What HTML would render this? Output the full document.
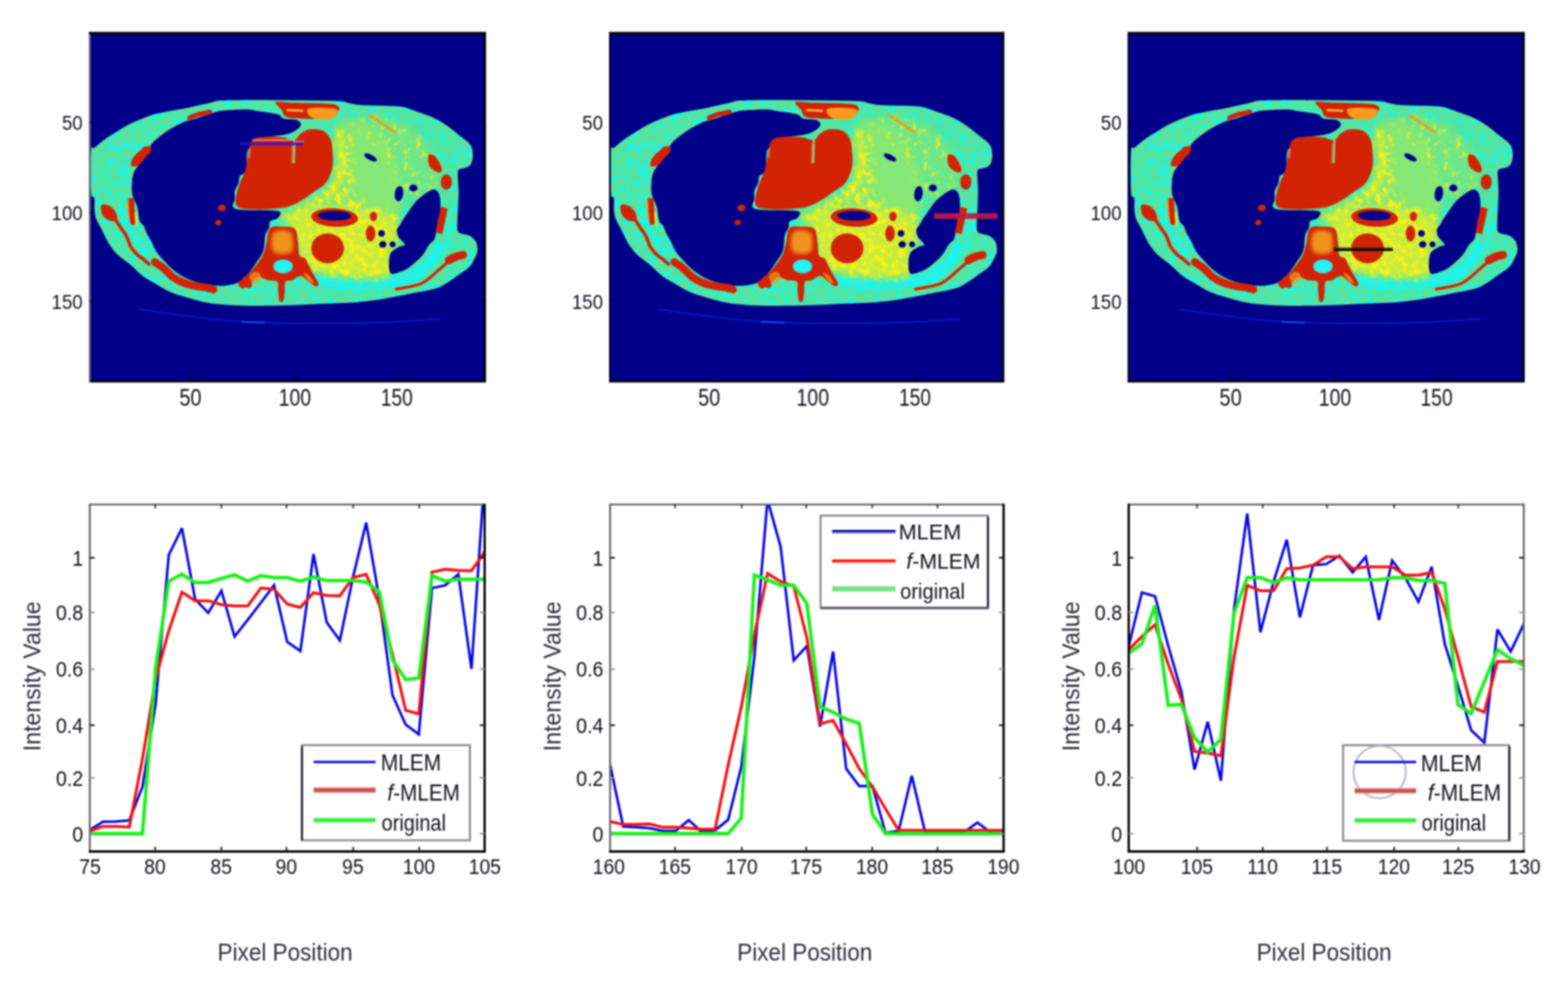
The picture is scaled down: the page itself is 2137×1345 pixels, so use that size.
<!DOCTYPE html>
<html lang="en">
<head>
<meta charset="utf-8">
<title>CT reconstruction line profiles: MLEM vs f-MLEM vs original</title>
<style>
html,body{margin:0;padding:0;background:#fff;}
body{width:2137px;height:1345px;overflow:hidden;}
#fig{position:relative;width:2137px;height:1345px;background:#fff;filter:blur(0.8px);}
#fig svg{display:block;position:absolute;left:0;top:0;font-family:"Liberation Sans", sans-serif;}
#labels{}
</style>
</head>
<body>
<div id="fig">
<svg id="gfx" width="2137" height="1345" viewBox="0 0 2137 1345">
<rect x="0" y="0" width="2137" height="1345" fill="#ffffff"/>
<filter id="fc" x="0" y="0" width="1" height="1" color-interpolation-filters="sRGB"><feTurbulence type="fractalNoise" baseFrequency="0.13" numOctaves="2" seed="7"/><feColorMatrix type="matrix" values="0 0 0 0 0  0 0 0 0 1  0 0 0 0 1  4.5 0 0 0 -2.3"/><feComposite in2="SourceGraphic" operator="in"/></filter>
<filter id="fy" x="-0.1" y="-0.1" width="1.2" height="1.2" color-interpolation-filters="sRGB"><feGaussianBlur in="SourceAlpha" stdDeviation="5" result="m"/><feTurbulence type="fractalNoise" baseFrequency="0.12" numOctaves="2" seed="23"/><feColorMatrix type="matrix" values="0 0 0 0 0.97  0 0 0 0 0.94  0 0 0 0 0.1  0 4.5 0 0 -2.0"/><feComposite in2="m" operator="in"/></filter>
<filter id="fy2" x="-0.1" y="-0.1" width="1.2" height="1.2" color-interpolation-filters="sRGB"><feGaussianBlur in="SourceAlpha" stdDeviation="5" result="m"/><feTurbulence type="fractalNoise" baseFrequency="0.12" numOctaves="2" seed="41"/><feColorMatrix type="matrix" values="0 0 0 0 0.9  0 0 0 0 0.93  0 0 0 0 0.15  0 4 0 0 -2.25"/><feComposite in2="m" operator="in"/></filter>
<filter id="fb" x="-0.2" y="-0.2" width="1.4" height="1.4"><feGaussianBlur stdDeviation="5"/></filter>
<filter id="fb2" x="-0.3" y="-0.3" width="1.6" height="1.6"><feGaussianBlur stdDeviation="2.5"/></filter>
<g id="ct1">
<clipPath id="cc0"><rect x="122.2" y="45.2" width="538.6" height="474.6"/></clipPath>
<rect x="122.2" y="45.2" width="538.6" height="474.6" fill="#020089"/>
<g clip-path="url(#cc0)"><g transform="translate(0 0)">
<clipPath id="bodyclip0"><path d="M124.2 262C123.47 251.37 123.33 216.37 124.2 206.2C125.07 196.03 125.93 203.98 129.4 201C132.87 198.02 140.18 191.8 145 188.3C149.82 184.8 153.85 182.77 158.3 180C162.75 177.23 166.42 174.48 171.7 171.7C176.98 168.92 183.07 166.08 190 163.3C196.93 160.52 202.18 157.77 213.3 155C224.42 152.23 244.47 149.2 256.7 146.7C268.93 144.2 278.93 141.62 286.7 140C294.47 138.38 289.42 137.6 303.3 137C317.18 136.4 344.43 136.32 370 136.4C395.57 136.48 438.92 136.77 456.7 137.5C474.48 138.23 470.6 139.83 476.7 140.8C482.8 141.77 482.2 142.6 493.3 143.3C504.4 144 532.18 144.02 543.3 145C554.42 145.98 554.43 147.53 560 149.2C565.57 150.87 571.15 152.92 576.7 155C582.25 157.08 587.75 158.92 593.3 161.7C598.85 164.48 604.43 167.82 610 171.7C615.57 175.58 622.2 181.45 626.7 185C631.2 188.55 634.37 190.5 637 193C639.63 195.5 641.3 197.5 642.5 200C643.7 202.5 643.95 205.17 644.2 208C644.45 210.83 644.53 214.22 644 217C643.47 219.78 642.57 222.77 641 224.7C639.43 226.63 637.1 227.58 634.6 228.6C632.1 229.62 627.77 229.9 626 230.8C624.23 231.7 624.3 231.63 624 234C623.7 236.37 624.03 240.12 624.2 245C624.37 249.88 625.1 254.68 625 263.3C624.9 271.92 623.88 288.58 623.6 296.7C623.32 304.82 622.78 308.53 623.3 312C623.82 315.47 623.92 315.95 626.7 317.5C629.48 319.05 636.4 319.38 640 321.3C643.6 323.22 646.5 325.88 648.3 329C650.1 332.12 650.77 336.67 650.8 340C650.83 343.33 650.3 345.12 648.5 349C646.7 352.88 643.63 359.25 640 363.3C636.37 367.35 631.7 369.68 626.7 373.3C621.7 376.92 615.57 381.67 610 385C604.43 388.33 601.63 390.8 593.3 393.3C584.97 395.8 569.72 398.05 560 400C550.28 401.95 543.33 403.47 535 405C526.67 406.53 519.72 407.95 510 409.2C500.28 410.45 487.82 411.73 476.7 412.5C465.58 413.27 457.2 413.22 443.3 413.8C429.4 414.38 411.07 415.52 393.3 416C375.53 416.48 351.7 416.87 336.7 416.7C321.7 416.53 313.03 415.83 303.3 415C293.57 414.17 286.63 413.37 278.3 411.7C269.97 410.03 260.95 407.28 253.3 405C245.65 402.72 239 400.88 232.4 398C225.8 395.12 219.93 391.28 213.7 387.7C207.47 384.12 201.25 381.18 195 376.5C188.75 371.82 182.03 364.57 176.2 359.6C170.37 354.63 164.68 351.38 160 346.7C155.32 342.02 151.65 337.15 148.1 331.5C144.55 325.85 141.55 318.38 138.7 312.8C135.85 307.22 132.65 302.63 131 298C129.35 293.37 129.2 289.67 128.8 285C128.4 280.33 129.37 273.83 128.6 270C127.83 266.17 124.93 272.63 124.2 262Z"/></clipPath>
<path d="M124.2 262C123.47 251.37 123.33 216.37 124.2 206.2C125.07 196.03 125.93 203.98 129.4 201C132.87 198.02 140.18 191.8 145 188.3C149.82 184.8 153.85 182.77 158.3 180C162.75 177.23 166.42 174.48 171.7 171.7C176.98 168.92 183.07 166.08 190 163.3C196.93 160.52 202.18 157.77 213.3 155C224.42 152.23 244.47 149.2 256.7 146.7C268.93 144.2 278.93 141.62 286.7 140C294.47 138.38 289.42 137.6 303.3 137C317.18 136.4 344.43 136.32 370 136.4C395.57 136.48 438.92 136.77 456.7 137.5C474.48 138.23 470.6 139.83 476.7 140.8C482.8 141.77 482.2 142.6 493.3 143.3C504.4 144 532.18 144.02 543.3 145C554.42 145.98 554.43 147.53 560 149.2C565.57 150.87 571.15 152.92 576.7 155C582.25 157.08 587.75 158.92 593.3 161.7C598.85 164.48 604.43 167.82 610 171.7C615.57 175.58 622.2 181.45 626.7 185C631.2 188.55 634.37 190.5 637 193C639.63 195.5 641.3 197.5 642.5 200C643.7 202.5 643.95 205.17 644.2 208C644.45 210.83 644.53 214.22 644 217C643.47 219.78 642.57 222.77 641 224.7C639.43 226.63 637.1 227.58 634.6 228.6C632.1 229.62 627.77 229.9 626 230.8C624.23 231.7 624.3 231.63 624 234C623.7 236.37 624.03 240.12 624.2 245C624.37 249.88 625.1 254.68 625 263.3C624.9 271.92 623.88 288.58 623.6 296.7C623.32 304.82 622.78 308.53 623.3 312C623.82 315.47 623.92 315.95 626.7 317.5C629.48 319.05 636.4 319.38 640 321.3C643.6 323.22 646.5 325.88 648.3 329C650.1 332.12 650.77 336.67 650.8 340C650.83 343.33 650.3 345.12 648.5 349C646.7 352.88 643.63 359.25 640 363.3C636.37 367.35 631.7 369.68 626.7 373.3C621.7 376.92 615.57 381.67 610 385C604.43 388.33 601.63 390.8 593.3 393.3C584.97 395.8 569.72 398.05 560 400C550.28 401.95 543.33 403.47 535 405C526.67 406.53 519.72 407.95 510 409.2C500.28 410.45 487.82 411.73 476.7 412.5C465.58 413.27 457.2 413.22 443.3 413.8C429.4 414.38 411.07 415.52 393.3 416C375.53 416.48 351.7 416.87 336.7 416.7C321.7 416.53 313.03 415.83 303.3 415C293.57 414.17 286.63 413.37 278.3 411.7C269.97 410.03 260.95 407.28 253.3 405C245.65 402.72 239 400.88 232.4 398C225.8 395.12 219.93 391.28 213.7 387.7C207.47 384.12 201.25 381.18 195 376.5C188.75 371.82 182.03 364.57 176.2 359.6C170.37 354.63 164.68 351.38 160 346.7C155.32 342.02 151.65 337.15 148.1 331.5C144.55 325.85 141.55 318.38 138.7 312.8C135.85 307.22 132.65 302.63 131 298C129.35 293.37 129.2 289.67 128.8 285C128.4 280.33 129.37 273.83 128.6 270C127.83 266.17 124.93 272.63 124.2 262Z" fill="#5ae29a"/>
<g clip-path="url(#bodyclip0)">
<path d="M150 202C154.17 201.33 167.5 197.83 175 198C182.5 198.17 191.67 202.17 195 203" fill="none" stroke="#22f2f4" stroke-width="9" stroke-linecap="round" stroke-linejoin="round" opacity="0.6" filter="url(#fb2)"/>
<path d="M160 225C162 226.67 170.67 230.83 172 235C173.33 239.17 168.67 247.5 168 250" fill="none" stroke="#22f2f4" stroke-width="11" stroke-linecap="round" stroke-linejoin="round" opacity="0.5" filter="url(#fb2)"/>
<path d="M166 285C167 287.5 169.67 294.5 172 300C174.33 305.5 177 312.5 180 318C183 323.5 186.67 328.5 190 333C193.33 337.5 198.33 343 200 345" fill="none" stroke="#22f2f4" stroke-width="9" stroke-linecap="round" stroke-linejoin="round" opacity="0.6" filter="url(#fb2)"/>
<path d="M330 392C335 392.5 348.33 394.67 360 395C371.67 395.33 393.33 394.17 400 394" fill="none" stroke="#22f2f4" stroke-width="8" stroke-linecap="round" stroke-linejoin="round" opacity="0.55" filter="url(#fb2)"/>
<path d="M415 330 L418 345" fill="none" stroke="#22f2f4" stroke-width="12" stroke-linecap="round" stroke-linejoin="round" opacity="0.7" filter="url(#fb2)"/>
<path d="M432 381C438.33 382 455.33 386.33 470 387C484.67 387.67 505 386.67 520 385C535 383.33 549.17 381.33 560 377C570.83 372.67 578.67 365 585 359C591.33 353 595.83 344 598 341" fill="none" stroke="#22f2f4" stroke-width="15" stroke-linecap="round" stroke-linejoin="round" opacity="0.85" filter="url(#fb2)"/>
<path d="M600 395C604.17 392.5 618.33 385.83 625 380C631.67 374.17 637.5 363.33 640 360" fill="none" stroke="#22f2f4" stroke-width="9" stroke-linecap="round" stroke-linejoin="round" opacity="0.35" filter="url(#fb2)"/>
<path d="M612 300C612 303.33 613.17 313.33 612 320C610.83 326.67 606.17 336.67 605 340" fill="none" stroke="#22f2f4" stroke-width="9" stroke-linecap="round" stroke-linejoin="round" opacity="0.55" filter="url(#fb2)"/>
<path d="M500 232C503.33 233.33 512.5 237.83 520 240C527.5 242.17 540.83 244.17 545 245" fill="none" stroke="#22f2f4" stroke-width="12" stroke-linecap="round" stroke-linejoin="round" opacity="0.5" filter="url(#fb2)"/>
<path d="M420 268 L440 258" fill="none" stroke="#22f2f4" stroke-width="8" stroke-linecap="round" stroke-linejoin="round" opacity="0.55" filter="url(#fb2)"/>
<path d="M625 200 L637 210" fill="none" stroke="#22f2f4" stroke-width="8" stroke-linecap="round" stroke-linejoin="round" opacity="0.4" filter="url(#fb2)"/>
<path d="M124.2 262C123.47 251.37 123.33 216.37 124.2 206.2C125.07 196.03 125.93 203.98 129.4 201C132.87 198.02 140.18 191.8 145 188.3C149.82 184.8 153.85 182.77 158.3 180C162.75 177.23 166.42 174.48 171.7 171.7C176.98 168.92 183.07 166.08 190 163.3C196.93 160.52 202.18 157.77 213.3 155C224.42 152.23 244.47 149.2 256.7 146.7C268.93 144.2 278.93 141.62 286.7 140C294.47 138.38 289.42 137.6 303.3 137C317.18 136.4 344.43 136.32 370 136.4C395.57 136.48 438.92 136.77 456.7 137.5C474.48 138.23 470.6 139.83 476.7 140.8C482.8 141.77 482.2 142.6 493.3 143.3C504.4 144 532.18 144.02 543.3 145C554.42 145.98 554.43 147.53 560 149.2C565.57 150.87 571.15 152.92 576.7 155C582.25 157.08 587.75 158.92 593.3 161.7C598.85 164.48 604.43 167.82 610 171.7C615.57 175.58 622.2 181.45 626.7 185C631.2 188.55 634.37 190.5 637 193C639.63 195.5 641.3 197.5 642.5 200C643.7 202.5 643.95 205.17 644.2 208C644.45 210.83 644.53 214.22 644 217C643.47 219.78 642.57 222.77 641 224.7C639.43 226.63 637.1 227.58 634.6 228.6C632.1 229.62 627.77 229.9 626 230.8C624.23 231.7 624.3 231.63 624 234C623.7 236.37 624.03 240.12 624.2 245C624.37 249.88 625.1 254.68 625 263.3C624.9 271.92 623.88 288.58 623.6 296.7C623.32 304.82 622.78 308.53 623.3 312C623.82 315.47 623.92 315.95 626.7 317.5C629.48 319.05 636.4 319.38 640 321.3C643.6 323.22 646.5 325.88 648.3 329C650.1 332.12 650.77 336.67 650.8 340C650.83 343.33 650.3 345.12 648.5 349C646.7 352.88 643.63 359.25 640 363.3C636.37 367.35 631.7 369.68 626.7 373.3C621.7 376.92 615.57 381.67 610 385C604.43 388.33 601.63 390.8 593.3 393.3C584.97 395.8 569.72 398.05 560 400C550.28 401.95 543.33 403.47 535 405C526.67 406.53 519.72 407.95 510 409.2C500.28 410.45 487.82 411.73 476.7 412.5C465.58 413.27 457.2 413.22 443.3 413.8C429.4 414.38 411.07 415.52 393.3 416C375.53 416.48 351.7 416.87 336.7 416.7C321.7 416.53 313.03 415.83 303.3 415C293.57 414.17 286.63 413.37 278.3 411.7C269.97 410.03 260.95 407.28 253.3 405C245.65 402.72 239 400.88 232.4 398C225.8 395.12 219.93 391.28 213.7 387.7C207.47 384.12 201.25 381.18 195 376.5C188.75 371.82 182.03 364.57 176.2 359.6C170.37 354.63 164.68 351.38 160 346.7C155.32 342.02 151.65 337.15 148.1 331.5C144.55 325.85 141.55 318.38 138.7 312.8C135.85 307.22 132.65 302.63 131 298C129.35 293.37 129.2 289.67 128.8 285C128.4 280.33 129.37 273.83 128.6 270C127.83 266.17 124.93 272.63 124.2 262Z" fill="#000" filter="url(#fc)"/>
<path d="M480 165C484.17 160 506.67 158.33 520 160C533.33 161.67 548.33 167.5 560 175C571.67 182.5 583.33 194.17 590 205C596.67 215.83 600.83 230.5 600 240C599.17 249.5 591.67 257 585 262C578.33 267 567.5 272 560 270C552.5 268 546.67 259.17 540 250C533.33 240.83 527.5 225 520 215C512.5 205 501.67 198.33 495 190C488.33 181.67 475.83 170 480 165Z" fill="#7ee67c" filter="url(#fb)" opacity="0.75"/>
<path d="M455 178C456.67 167.67 462.17 168 468 166C473.83 164 482.67 163.33 490 166C497.33 168.67 505.33 175.5 512 182C518.67 188.5 524.5 196.17 530 205C535.5 213.83 541.67 225.5 545 235C548.33 244.5 550 252.83 550 262C550 271.17 546.67 281.17 545 290C543.33 298.83 541.67 305.83 540 315C538.33 324.17 536.67 335.17 535 345C533.33 354.83 535.83 368 530 374C524.17 380 510 380.33 500 381C490 381.67 479.17 379 470 378C460.83 377 452.5 376.67 445 375C437.5 373.33 430.83 372.5 425 368C419.17 363.5 413.33 355.67 410 348C406.67 340.33 406.67 329.67 405 322C403.33 314.33 403.83 307 400 302C396.17 297 382.83 294.83 382 292C381.17 289.17 388.67 288.33 395 285C401.33 281.67 411.67 277.17 420 272C428.33 266.83 438.67 261.33 445 254C451.33 246.67 456.33 240.67 458 228C459.67 215.33 453.33 188.33 455 178Z" fill="#8ce870" filter="url(#fb)" opacity="0.9"/>
<path d="M402 290C409.83 287.83 418.67 287.83 430 287C441.33 286.17 456.33 284.67 470 285C483.67 285.33 500.67 286.5 512 289C523.33 291.5 533 294.83 538 300C543 305.17 543 312.5 542 320C541 327.5 534.33 336.33 532 345C529.67 353.67 533.33 366.67 528 372C522.67 377.33 509.67 376.5 500 377C490.33 377.5 479.17 376 470 375C460.83 374 452.5 372.67 445 371C437.5 369.33 430.5 369.33 425 365C419.5 360.67 415 352.5 412 345C409 337.5 411.83 327.5 407 320C402.17 312.5 383.83 305 383 300C382.17 295 394.17 292.17 402 290Z" fill="#f2ee1e" opacity="0.6" filter="url(#fb)"/>
<path d="M462 185C462.67 190 466 205 466 215C466 225 464.67 236.67 462 245C459.33 253.33 452 261.67 450 265" fill="none" stroke="#f2ee1e" stroke-width="9" stroke-linecap="round" stroke-linejoin="round" opacity="0.55" filter="url(#fb2)"/>
<path d="M340 170C341.67 165.33 353.33 160.67 360 160C366.67 159.33 374.17 163.5 380 166C385.83 168.5 395 172 395 175C395 178 387.5 181.83 380 184C372.5 186.17 356.67 190.33 350 188C343.33 185.67 338.33 174.67 340 170Z" fill="#8ce870" filter="url(#fb2)" opacity="0.6"/>
<path d="M456 185C457.83 176.67 464 177.17 468 178C472 178.83 477.67 181.33 480 190C482.33 198.67 480.33 216.67 482 230C483.67 243.33 483.67 261.33 490 270C496.33 278.67 510.83 277 520 282C529.17 287 541.33 292.83 545 300C548.67 307.17 543.83 316.67 542 325C540.17 333.33 536 341.5 534 350C532 358.5 535.67 370.83 530 376C524.33 381.17 510 380.67 500 381C490 381.33 479.17 379 470 378C460.83 377 452.5 376.67 445 375C437.5 373.33 430.83 372.5 425 368C419.17 363.5 413.33 355.67 410 348C406.67 340.33 406.67 329.67 405 322C403.33 314.33 403.5 306.83 400 302C396.5 297.17 384.67 295.67 384 293C383.33 290.33 390 289.5 396 286C402 282.5 411.83 277.33 420 272C428.17 266.67 438.83 261.33 445 254C451.17 246.67 455.17 239.5 457 228C458.83 216.5 454.17 193.33 456 185Z" fill="#000" filter="url(#fy)"/>
<path d="M480 165C484.17 160 506.67 158.33 520 160C533.33 161.67 548.33 167.5 560 175C571.67 182.5 583.33 194.17 590 205C596.67 215.83 600.83 230.5 600 240C599.17 249.5 591.67 257 585 262C578.33 267 567.5 272 560 270C552.5 268 546.67 259.17 540 250C533.33 240.83 527.5 225 520 215C512.5 205 501.67 198.33 495 190C488.33 181.67 475.83 170 480 165Z" fill="#000" filter="url(#fy2)"/>
</g>
<path d="M251.7 165.8C255.87 164.13 255.87 165.1 261.7 163.3C267.53 161.5 279.77 157.08 286.7 155C293.63 152.92 294.97 151.77 303.3 150.8C311.63 149.83 328.37 149.05 336.7 149.2C345.03 149.35 346.37 150.6 353.3 151.7C360.23 152.8 372.73 154.13 378.3 155.8C383.87 157.47 382.53 160.45 386.7 161.7C390.87 162.95 399.42 162.2 403.3 163.3C407.18 164.4 409.43 166.35 410 168.3C410.57 170.25 409.2 172.77 406.7 175C404.2 177.23 399.73 180.03 395 181.7C390.27 183.37 383.85 184.17 378.3 185C372.75 185.83 365.87 186 361.7 186.7C357.53 187.4 356.63 186.98 353.3 189.2C349.97 191.42 344.47 196.82 341.7 200C338.93 203.18 337.68 203.3 336.7 208.3C335.72 213.3 336.63 225.27 335.8 230C334.97 234.73 333.22 235.03 331.7 236.7C330.18 238.37 327.82 237.78 326.7 240C325.58 242.22 326.12 246.67 325 250C323.88 253.33 320.83 256.38 320 260C319.17 263.62 320.42 268.08 320 271.7C319.58 275.32 315.83 279.32 317.5 281.7C319.17 284.08 319.87 285.03 330 286C340.13 286.97 370.13 285.72 378.3 287.5C386.47 289.28 380.67 294.33 379 296.7C377.33 299.07 370.35 299.48 368.3 301.7C366.25 303.92 367.8 306.95 366.7 310C365.6 313.05 362.82 315.55 361.7 320C360.58 324.45 360.83 332.25 360 336.7C359.17 341.15 358.37 343.37 356.7 346.7C355.03 350.03 352.23 353.37 350 356.7C347.77 360.03 345.8 363.37 343.3 366.7C340.8 370.03 337.77 373.93 335 376.7C332.23 379.47 329.2 381.63 326.7 383.3C324.2 384.97 323.9 385.67 320 386.7C316.1 387.73 308.85 389.2 303.3 389.5C297.75 389.8 292.25 389.25 286.7 388.5C281.15 387.75 275.57 386.58 270 385C264.43 383.42 258.85 381.78 253.3 379C247.75 376.22 241.7 372.3 236.7 368.3C231.7 364.3 227.2 359.17 223.3 355C219.4 350.83 216.07 347.47 213.3 343.3C210.53 339.13 208.92 334.22 206.7 330C204.48 325.78 201.78 321.67 200 318C198.22 314.33 197.62 310.83 196 308C194.38 305.17 191.73 305.17 190.3 301C188.87 296.83 188.5 287.55 187.4 283C186.3 278.45 184.93 276.98 183.7 273.7C182.47 270.42 180.62 267.8 180 263.3C179.38 258.8 179.58 251.42 180 246.7C180.42 241.98 181.08 238.53 182.5 235C183.92 231.47 186.08 228.92 188.5 225.5C190.92 222.08 194.37 218.73 197 214.5C199.63 210.27 201.97 203.93 204.3 200.1C206.63 196.27 207.83 194.57 211 191.5C214.17 188.43 219.02 184.73 223.3 181.7C227.58 178.67 231.97 175.95 236.7 173.3C241.43 170.65 247.53 167.47 251.7 165.8Z" fill="#020089"/>
<path d="M591 258.3C593.17 258.42 595.5 259.47 597 261.7C598.5 263.93 599.5 267.27 600 271.7C600.5 276.13 600.5 283.58 600 288.3C599.5 293.02 597.95 295.27 597 300C596.05 304.73 595.18 312.25 594.3 316.7C593.42 321.15 593.25 323.93 591.7 326.7C590.15 329.47 587.5 329.97 585 333.3C582.5 336.63 579.75 342.8 576.7 346.7C573.65 350.6 570.03 353.65 566.7 356.7C563.37 359.75 560.03 362.78 556.7 365C553.37 367.22 550.87 368.88 546.7 370C542.53 371.12 534.2 375.58 531.7 371.7C529.2 367.82 529.77 352.53 531.7 346.7C533.63 340.87 539.97 338.93 543.3 336.7C546.63 334.47 551.7 335.53 551.7 333.3C551.7 331.07 545.1 326.68 543.3 323.3C541.5 319.92 540.52 315.88 540.9 313C541.28 310.12 544.08 308.5 545.6 306C547.12 303.5 548.43 300.5 550 298C551.57 295.5 553.33 293.38 555 291C556.67 288.62 557.98 286.48 560 283.7C562.02 280.92 564.5 277.12 567.1 274.3C569.7 271.48 572.78 269.02 575.6 266.8C578.42 264.58 581.43 262.42 584 261C586.57 259.58 588.83 258.18 591 258.3Z" fill="#020089"/>
<ellipse cx="505" cy="214.5" rx="9.5" ry="3.8" fill="#020089" transform="rotate(28 505 214.5)"/>
<ellipse cx="543.7" cy="264" rx="5.8" ry="10.5" fill="#020089" transform="rotate(8 543.7 264)"/>
<ellipse cx="563.4" cy="256.3" rx="5.6" ry="4.7" fill="#020089"/>
<ellipse cx="520" cy="318" rx="4.5" ry="4.5" fill="#020089"/>
<ellipse cx="521.7" cy="333" rx="5" ry="4.5" fill="#020089"/>
<ellipse cx="535" cy="333" rx="4" ry="4" fill="#020089"/>
<ellipse cx="456" cy="296.5" rx="32" ry="12.5" fill="#d32307" transform="rotate(3 456 296.5)"/>
<ellipse cx="456" cy="294" rx="22.5" ry="6.6" fill="#020089" transform="rotate(1 456 294)"/>
<path d="M340.7 198.6C341.57 195.33 341.55 193.93 343.3 192.1C345.05 190.27 346.83 188.57 351.2 187.6C355.57 186.63 363.38 186.33 369.5 186.3C375.62 186.27 383.32 186.7 387.9 187.4C392.48 188.1 394.3 190.23 397 190.5C399.7 190.77 402.13 190.27 404.1 189C406.07 187.73 405.83 185.02 408.8 182.9C411.77 180.78 416.65 177.08 421.9 176.3C427.15 175.52 435.48 175.78 440.3 178.2C445.12 180.62 448.58 185.22 450.8 190.8C453.02 196.38 453.13 206 453.6 211.7C454.07 217.4 454.03 221.03 453.6 225C453.17 228.97 452.68 231.33 451 235.5C449.32 239.67 447.5 245.58 443.5 250C439.5 254.42 432.5 258.12 427 262C421.5 265.88 416.12 270.05 410.5 273.3C404.88 276.55 400.33 279.58 393.3 281.5C386.27 283.42 376.35 284.17 368.3 284.8C360.25 285.43 352.05 285.6 345 285.3C337.95 285 330 285 326 283C322 281 320.95 278.63 321 273.3C321.05 267.97 324.12 257.77 326.3 251C328.48 244.23 332.13 239.25 334.1 232.7C336.07 226.15 337 217.38 338.1 211.7C339.2 206.02 339.83 201.87 340.7 198.6Z" fill="#d32307"/>
<path d="M401 189C401 191.67 401.12 199.5 401 205C400.88 210.5 400.42 219.17 400.3 222" fill="none" stroke="#8ae88e" stroke-width="2.6" stroke-linecap="butt" stroke-linejoin="round" opacity="0.9"/>
<path d="M398.8 196C398.77 198.33 398.7 205.5 398.6 210C398.5 214.5 398.27 220.83 398.2 223" fill="none" stroke="#c89444" stroke-width="2.2" stroke-linecap="butt" stroke-linejoin="round" opacity="0.75"/>
<path d="M341 202 L340 215" fill="none" stroke="#e8b080" stroke-width="1.6" stroke-linecap="round" stroke-linejoin="round" opacity="0.7"/>
<ellipse cx="446.5" cy="338.4" rx="22.3" ry="20.3" fill="#d32307"/>
<ellipse cx="509" cy="295" rx="5" ry="6.5" fill="#d32307"/>
<ellipse cx="505" cy="318.3" rx="6.5" ry="11" fill="#d32307"/>
<ellipse cx="302.5" cy="283.3" rx="5.5" ry="4.6" fill="#d32307"/>
<ellipse cx="297.5" cy="303.3" rx="4.2" ry="3.8" fill="#d32307"/>
<path d="M368 311C371.67 307.17 379.33 308.83 385 309C390.67 309.17 398.5 308.5 402 312C405.5 315.5 405 324 406 330C407 336 406.33 344.33 408 348C409.67 351.67 414 350 416 352C418 354 418.33 356.67 420 360C421.67 363.33 423.67 367.67 426 372C428.33 376.33 433.33 383 434 386C434.67 389 432.33 390.5 430 390C427.67 389.5 423.33 385.33 420 383C416.67 380.67 413.67 376.17 410 376C406.33 375.83 401.5 380.67 398 382C394.5 383.33 390.67 381.33 389 384C387.33 386.67 388.5 393.67 388 398C387.5 402.33 387.17 408 386 410C384.83 412 382.17 412.33 381 410C379.83 407.67 379.5 400.33 379 396C378.5 391.67 380.17 386.33 378 384C375.83 381.67 370.33 383 366 382C361.67 381 356.33 377 352 378C347.67 379 343.67 385.5 340 388C336.33 390.5 332.33 393 330 393C327.67 393 326 390.17 326 388C326 385.83 327.67 382.67 330 380C332.33 377.33 336.67 375.33 340 372C343.33 368.67 347 364 350 360C353 356 355.83 352.67 358 348C360.17 343.33 361.33 338.17 363 332C364.67 325.83 364.33 314.83 368 311Z" fill="#d32307"/>
<path d="M373 317C375.5 314.33 381 313.83 385 314C389 314.17 394.67 315 397 318C399.33 321 399 327.83 399 332C399 336.17 399.33 340.67 397 343C394.67 345.33 389 346 385 346C381 346 375.5 345.67 373 343C370.5 340.33 370 334.33 370 330C370 325.67 370.5 319.67 373 317Z" fill="#f6b020" opacity="0.8" filter="url(#fb2)"/>
<path d="M340 376C340.67 373.33 347.33 369.67 350 370C352.67 370.33 356.67 375.33 356 378C355.33 380.67 348.67 386.33 346 386C343.33 385.67 339.33 378.67 340 376Z" fill="#f59a1c" opacity="0.7"/>
<path d="M414 372C414.33 371 419.67 373.67 422 376C424.33 378.33 428.33 385 428 386C427.67 387 422.33 384.33 420 382C417.67 379.67 413.67 373 414 372Z" fill="#f59a1c" opacity="0.7"/>
<ellipse cx="385.8" cy="363" rx="13.2" ry="9.4" fill="#22f2f4"/>
<path d="M376 139C378.67 137.33 389.33 139.67 400 140C410.67 140.33 430.33 140.5 440 141C449.67 141.5 454.33 141.5 458 143C461.67 144.5 463.33 147.5 462 150C460.67 152.5 455.33 156 450 158C444.67 160 438.33 161.5 430 162C421.67 162.5 407 161.67 400 161C393 160.33 390.67 159.83 388 158C385.33 156.17 386 153.17 384 150C382 146.83 373.33 140.67 376 139Z" fill="#d32307"/>
<path d="M420 148C423.83 146.17 438.33 146.67 445 147C451.67 147.33 458.33 147.83 460 150C461.67 152.17 459.17 157.83 455 160C450.83 162.17 440.5 163.33 435 163C429.5 162.67 424.5 160.5 422 158C419.5 155.5 416.17 149.83 420 148Z" fill="#f59a1c"/>
<path d="M392 150 L412 151" fill="none" stroke="#f0c030" stroke-width="3.5" stroke-linecap="round" stroke-linejoin="round" opacity="0.85"/>
<path d="M258.5 160.5C260.42 159.75 265.42 157.33 270 156C274.58 154.67 283.33 153.08 286 152.5" fill="none" stroke="#d32307" stroke-width="6.5" stroke-linecap="round" stroke-linejoin="round"/>
<path d="M196.8 200.1C199.13 199.23 203.8 198.92 205.2 200.1C206.6 201.28 206.43 204.77 205.2 207.2C203.97 209.63 199.82 212.37 197.8 214.7C195.78 217.03 194.83 219.33 193.1 221.2C191.37 223.07 189.75 225.12 187.4 225.9C185.05 226.68 180.23 227.3 179 225.9C177.77 224.5 178.9 220.15 180 217.5C181.1 214.85 183.73 212.03 185.6 210C187.47 207.97 189.33 206.95 191.2 205.3C193.07 203.65 194.47 200.97 196.8 200.1Z" fill="#d32307"/>
<path d="M178.5 270C178.75 273.33 179.42 284 180 290C180.58 296 181.67 303.33 182 306" fill="none" stroke="#d32307" stroke-width="8" stroke-linecap="butt" stroke-linejoin="round"/>
<path d="M174 272C174.17 275 174.67 285.33 175 290C175.33 294.67 175.83 298.33 176 300" fill="none" stroke="#f59a1c" stroke-width="2.5" stroke-linecap="round" stroke-linejoin="round" opacity="0.9"/>
<path d="M185 290 L186 306" fill="none" stroke="#f2ee1e" stroke-width="3" stroke-linecap="round" stroke-linejoin="round" opacity="0.9"/>
<path d="M139 279C141 277.83 146.83 279.17 150 281C153.17 282.83 156.5 286.83 158 290C159.5 293.17 160.33 298.17 159 300C157.67 301.83 152.83 301.67 150 301C147.17 300.33 144 298.17 142 296C140 293.83 138.5 290.83 138 288C137.5 285.17 137 280.17 139 279Z" fill="#d32307"/>
<path d="M158 300C159.17 301.83 162.58 307.33 165 311C167.42 314.67 170.33 317.83 172.5 322C174.67 326.17 175.82 332.07 178 336C180.18 339.93 182.77 342.77 185.6 345.6C188.43 348.43 192.1 350.6 195 353C197.9 355.4 201.67 358.83 203 360" fill="none" stroke="#d32307" stroke-width="4.6" stroke-linecap="round" stroke-linejoin="round"/>
<path d="M211 357C213 358.42 218.67 361.92 223 365.5C227.33 369.08 231.5 374.83 237 378.5C242.5 382.17 248.17 385.17 256 387.5C263.83 389.83 278.17 391.33 284 392.5C289.83 393.67 289.83 394.17 291 394.5" fill="none" stroke="#d32307" stroke-width="10.5" stroke-linecap="round" stroke-linejoin="round"/>
<path d="M584 211.5C585.25 209.32 589.6 210.15 592.4 212.5C595.2 214.85 599.23 222.02 600.8 225.6C602.37 229.18 602.88 232.6 601.8 234C600.72 235.4 597.12 235.4 594.3 234C591.48 232.6 586.62 229.35 584.9 225.6C583.18 221.85 582.75 213.68 584 211.5Z" fill="#d32307"/>
<ellipse cx="608.3" cy="248" rx="7.6" ry="10.6" fill="#d32307"/>
<path d="M605.5 283C604.92 285.83 603.25 294.17 602 300C600.75 305.83 598.67 315 598 318" fill="none" stroke="#d32307" stroke-width="9.5" stroke-linecap="butt" stroke-linejoin="round"/>
<path d="M540 394C545.83 392.67 565 390.67 575 386C585 381.33 593.33 371.5 600 366C606.67 360.5 612.5 355.17 615 353" fill="none" stroke="#d32307" stroke-width="4" stroke-linecap="round" stroke-linejoin="round"/>
<path d="M612 354.5C613.67 353.67 618.83 350.67 622 349.5C625.17 348.33 629.5 347.83 631 347.5" fill="none" stroke="#d32307" stroke-width="11" stroke-linecap="round" stroke-linejoin="round"/>
<path d="M503 157C505.83 158.83 514.17 164.17 520 168C525.83 171.83 535 178 538 180" fill="none" stroke="#f59a1c" stroke-width="3.5" stroke-linecap="round" stroke-linejoin="round"/>
<path d="M328 386 L340 389" fill="none" stroke="#d32307" stroke-width="7" stroke-linecap="round" stroke-linejoin="round"/>
<path d="M190 421.5C200 422.92 226.67 427.17 250 430C273.33 432.83 301.67 436.75 330 438.5C358.33 440.25 388.33 440.33 420 440.5C451.67 440.67 490 440.5 520 439.5C550 438.5 586.67 435.33 600 434.5" fill="none" stroke="#0a22e6" stroke-width="2.4" stroke-linecap="round" stroke-linejoin="round" opacity="0.65"/>
<path d="M330 438.5 L360 439.5" fill="none" stroke="#1a50ff" stroke-width="2.4" stroke-linecap="round" stroke-linejoin="round" opacity="0.8"/>
<line x1="344" y1="190.8" x2="399" y2="190.8" stroke="#e6c2a2" stroke-width="2.4" opacity="0.6"/>
<line x1="402" y1="193.2" x2="414" y2="193.2" stroke="#b8c4f0" stroke-width="1.8" opacity="0.7"/>
<line x1="327" y1="196" x2="413.5" y2="196" stroke="#2a14d8" stroke-width="4.6" opacity="0.74"/>
</g></g>
<line x1="120.95" y1="45.2" x2="662.2" y2="45.2" stroke="#000" stroke-width="3.3"/>
<line x1="120.95" y1="519.8" x2="662.2" y2="519.8" stroke="#000010" stroke-width="2.9"/>
<line x1="122.2" y1="46.6" x2="122.2" y2="521" stroke="#7a7a7a" stroke-width="2.5"/>
<line x1="660.8" y1="43.8" x2="660.8" y2="521" stroke="#000" stroke-width="3.2"/>
<line x1="260.4" y1="519.8" x2="260.4" y2="512.8" stroke="#00001e" stroke-width="2"/>
<line x1="403.3" y1="519.8" x2="403.3" y2="512.8" stroke="#00001e" stroke-width="2"/>
<line x1="542.1" y1="519.8" x2="542.1" y2="512.8" stroke="#00001e" stroke-width="2"/>
<line x1="122.2" y1="166.5" x2="128.2" y2="166.5" stroke="#00001e" stroke-width="2" opacity="0.7"/>
<line x1="660.8" y1="166.5" x2="654.8" y2="166.5" stroke="#00001e" stroke-width="2" opacity="0.7"/>
<line x1="122.2" y1="290" x2="128.2" y2="290" stroke="#00001e" stroke-width="2" opacity="0.7"/>
<line x1="660.8" y1="290" x2="654.8" y2="290" stroke="#00001e" stroke-width="2" opacity="0.7"/>
<line x1="122.2" y1="410.5" x2="128.2" y2="410.5" stroke="#00001e" stroke-width="2" opacity="0.7"/>
<line x1="660.8" y1="410.5" x2="654.8" y2="410.5" stroke="#00001e" stroke-width="2" opacity="0.7"/>
</g>
<g id="ct2">
<clipPath id="cc1"><rect x="831.3" y="45.2" width="535.9" height="474.6"/></clipPath>
<rect x="831.3" y="45.2" width="535.9" height="474.6" fill="#020089"/>
<g clip-path="url(#cc1)"><g transform="translate(708 0)">
<clipPath id="bodyclip1"><path d="M124.2 262C123.47 251.37 123.33 216.37 124.2 206.2C125.07 196.03 125.93 203.98 129.4 201C132.87 198.02 140.18 191.8 145 188.3C149.82 184.8 153.85 182.77 158.3 180C162.75 177.23 166.42 174.48 171.7 171.7C176.98 168.92 183.07 166.08 190 163.3C196.93 160.52 202.18 157.77 213.3 155C224.42 152.23 244.47 149.2 256.7 146.7C268.93 144.2 278.93 141.62 286.7 140C294.47 138.38 289.42 137.6 303.3 137C317.18 136.4 344.43 136.32 370 136.4C395.57 136.48 438.92 136.77 456.7 137.5C474.48 138.23 470.6 139.83 476.7 140.8C482.8 141.77 482.2 142.6 493.3 143.3C504.4 144 532.18 144.02 543.3 145C554.42 145.98 554.43 147.53 560 149.2C565.57 150.87 571.15 152.92 576.7 155C582.25 157.08 587.75 158.92 593.3 161.7C598.85 164.48 604.43 167.82 610 171.7C615.57 175.58 622.2 181.45 626.7 185C631.2 188.55 634.37 190.5 637 193C639.63 195.5 641.3 197.5 642.5 200C643.7 202.5 643.95 205.17 644.2 208C644.45 210.83 644.53 214.22 644 217C643.47 219.78 642.57 222.77 641 224.7C639.43 226.63 637.1 227.58 634.6 228.6C632.1 229.62 627.77 229.9 626 230.8C624.23 231.7 624.3 231.63 624 234C623.7 236.37 624.03 240.12 624.2 245C624.37 249.88 625.1 254.68 625 263.3C624.9 271.92 623.88 288.58 623.6 296.7C623.32 304.82 622.78 308.53 623.3 312C623.82 315.47 623.92 315.95 626.7 317.5C629.48 319.05 636.4 319.38 640 321.3C643.6 323.22 646.5 325.88 648.3 329C650.1 332.12 650.77 336.67 650.8 340C650.83 343.33 650.3 345.12 648.5 349C646.7 352.88 643.63 359.25 640 363.3C636.37 367.35 631.7 369.68 626.7 373.3C621.7 376.92 615.57 381.67 610 385C604.43 388.33 601.63 390.8 593.3 393.3C584.97 395.8 569.72 398.05 560 400C550.28 401.95 543.33 403.47 535 405C526.67 406.53 519.72 407.95 510 409.2C500.28 410.45 487.82 411.73 476.7 412.5C465.58 413.27 457.2 413.22 443.3 413.8C429.4 414.38 411.07 415.52 393.3 416C375.53 416.48 351.7 416.87 336.7 416.7C321.7 416.53 313.03 415.83 303.3 415C293.57 414.17 286.63 413.37 278.3 411.7C269.97 410.03 260.95 407.28 253.3 405C245.65 402.72 239 400.88 232.4 398C225.8 395.12 219.93 391.28 213.7 387.7C207.47 384.12 201.25 381.18 195 376.5C188.75 371.82 182.03 364.57 176.2 359.6C170.37 354.63 164.68 351.38 160 346.7C155.32 342.02 151.65 337.15 148.1 331.5C144.55 325.85 141.55 318.38 138.7 312.8C135.85 307.22 132.65 302.63 131 298C129.35 293.37 129.2 289.67 128.8 285C128.4 280.33 129.37 273.83 128.6 270C127.83 266.17 124.93 272.63 124.2 262Z"/></clipPath>
<path d="M124.2 262C123.47 251.37 123.33 216.37 124.2 206.2C125.07 196.03 125.93 203.98 129.4 201C132.87 198.02 140.18 191.8 145 188.3C149.82 184.8 153.85 182.77 158.3 180C162.75 177.23 166.42 174.48 171.7 171.7C176.98 168.92 183.07 166.08 190 163.3C196.93 160.52 202.18 157.77 213.3 155C224.42 152.23 244.47 149.2 256.7 146.7C268.93 144.2 278.93 141.62 286.7 140C294.47 138.38 289.42 137.6 303.3 137C317.18 136.4 344.43 136.32 370 136.4C395.57 136.48 438.92 136.77 456.7 137.5C474.48 138.23 470.6 139.83 476.7 140.8C482.8 141.77 482.2 142.6 493.3 143.3C504.4 144 532.18 144.02 543.3 145C554.42 145.98 554.43 147.53 560 149.2C565.57 150.87 571.15 152.92 576.7 155C582.25 157.08 587.75 158.92 593.3 161.7C598.85 164.48 604.43 167.82 610 171.7C615.57 175.58 622.2 181.45 626.7 185C631.2 188.55 634.37 190.5 637 193C639.63 195.5 641.3 197.5 642.5 200C643.7 202.5 643.95 205.17 644.2 208C644.45 210.83 644.53 214.22 644 217C643.47 219.78 642.57 222.77 641 224.7C639.43 226.63 637.1 227.58 634.6 228.6C632.1 229.62 627.77 229.9 626 230.8C624.23 231.7 624.3 231.63 624 234C623.7 236.37 624.03 240.12 624.2 245C624.37 249.88 625.1 254.68 625 263.3C624.9 271.92 623.88 288.58 623.6 296.7C623.32 304.82 622.78 308.53 623.3 312C623.82 315.47 623.92 315.95 626.7 317.5C629.48 319.05 636.4 319.38 640 321.3C643.6 323.22 646.5 325.88 648.3 329C650.1 332.12 650.77 336.67 650.8 340C650.83 343.33 650.3 345.12 648.5 349C646.7 352.88 643.63 359.25 640 363.3C636.37 367.35 631.7 369.68 626.7 373.3C621.7 376.92 615.57 381.67 610 385C604.43 388.33 601.63 390.8 593.3 393.3C584.97 395.8 569.72 398.05 560 400C550.28 401.95 543.33 403.47 535 405C526.67 406.53 519.72 407.95 510 409.2C500.28 410.45 487.82 411.73 476.7 412.5C465.58 413.27 457.2 413.22 443.3 413.8C429.4 414.38 411.07 415.52 393.3 416C375.53 416.48 351.7 416.87 336.7 416.7C321.7 416.53 313.03 415.83 303.3 415C293.57 414.17 286.63 413.37 278.3 411.7C269.97 410.03 260.95 407.28 253.3 405C245.65 402.72 239 400.88 232.4 398C225.8 395.12 219.93 391.28 213.7 387.7C207.47 384.12 201.25 381.18 195 376.5C188.75 371.82 182.03 364.57 176.2 359.6C170.37 354.63 164.68 351.38 160 346.7C155.32 342.02 151.65 337.15 148.1 331.5C144.55 325.85 141.55 318.38 138.7 312.8C135.85 307.22 132.65 302.63 131 298C129.35 293.37 129.2 289.67 128.8 285C128.4 280.33 129.37 273.83 128.6 270C127.83 266.17 124.93 272.63 124.2 262Z" fill="#5ae29a"/>
<g clip-path="url(#bodyclip1)">
<path d="M150 202C154.17 201.33 167.5 197.83 175 198C182.5 198.17 191.67 202.17 195 203" fill="none" stroke="#22f2f4" stroke-width="9" stroke-linecap="round" stroke-linejoin="round" opacity="0.6" filter="url(#fb2)"/>
<path d="M160 225C162 226.67 170.67 230.83 172 235C173.33 239.17 168.67 247.5 168 250" fill="none" stroke="#22f2f4" stroke-width="11" stroke-linecap="round" stroke-linejoin="round" opacity="0.5" filter="url(#fb2)"/>
<path d="M166 285C167 287.5 169.67 294.5 172 300C174.33 305.5 177 312.5 180 318C183 323.5 186.67 328.5 190 333C193.33 337.5 198.33 343 200 345" fill="none" stroke="#22f2f4" stroke-width="9" stroke-linecap="round" stroke-linejoin="round" opacity="0.6" filter="url(#fb2)"/>
<path d="M330 392C335 392.5 348.33 394.67 360 395C371.67 395.33 393.33 394.17 400 394" fill="none" stroke="#22f2f4" stroke-width="8" stroke-linecap="round" stroke-linejoin="round" opacity="0.55" filter="url(#fb2)"/>
<path d="M415 330 L418 345" fill="none" stroke="#22f2f4" stroke-width="12" stroke-linecap="round" stroke-linejoin="round" opacity="0.7" filter="url(#fb2)"/>
<path d="M432 381C438.33 382 455.33 386.33 470 387C484.67 387.67 505 386.67 520 385C535 383.33 549.17 381.33 560 377C570.83 372.67 578.67 365 585 359C591.33 353 595.83 344 598 341" fill="none" stroke="#22f2f4" stroke-width="15" stroke-linecap="round" stroke-linejoin="round" opacity="0.85" filter="url(#fb2)"/>
<path d="M600 395C604.17 392.5 618.33 385.83 625 380C631.67 374.17 637.5 363.33 640 360" fill="none" stroke="#22f2f4" stroke-width="9" stroke-linecap="round" stroke-linejoin="round" opacity="0.35" filter="url(#fb2)"/>
<path d="M612 300C612 303.33 613.17 313.33 612 320C610.83 326.67 606.17 336.67 605 340" fill="none" stroke="#22f2f4" stroke-width="9" stroke-linecap="round" stroke-linejoin="round" opacity="0.55" filter="url(#fb2)"/>
<path d="M500 232C503.33 233.33 512.5 237.83 520 240C527.5 242.17 540.83 244.17 545 245" fill="none" stroke="#22f2f4" stroke-width="12" stroke-linecap="round" stroke-linejoin="round" opacity="0.5" filter="url(#fb2)"/>
<path d="M420 268 L440 258" fill="none" stroke="#22f2f4" stroke-width="8" stroke-linecap="round" stroke-linejoin="round" opacity="0.55" filter="url(#fb2)"/>
<path d="M625 200 L637 210" fill="none" stroke="#22f2f4" stroke-width="8" stroke-linecap="round" stroke-linejoin="round" opacity="0.4" filter="url(#fb2)"/>
<path d="M124.2 262C123.47 251.37 123.33 216.37 124.2 206.2C125.07 196.03 125.93 203.98 129.4 201C132.87 198.02 140.18 191.8 145 188.3C149.82 184.8 153.85 182.77 158.3 180C162.75 177.23 166.42 174.48 171.7 171.7C176.98 168.92 183.07 166.08 190 163.3C196.93 160.52 202.18 157.77 213.3 155C224.42 152.23 244.47 149.2 256.7 146.7C268.93 144.2 278.93 141.62 286.7 140C294.47 138.38 289.42 137.6 303.3 137C317.18 136.4 344.43 136.32 370 136.4C395.57 136.48 438.92 136.77 456.7 137.5C474.48 138.23 470.6 139.83 476.7 140.8C482.8 141.77 482.2 142.6 493.3 143.3C504.4 144 532.18 144.02 543.3 145C554.42 145.98 554.43 147.53 560 149.2C565.57 150.87 571.15 152.92 576.7 155C582.25 157.08 587.75 158.92 593.3 161.7C598.85 164.48 604.43 167.82 610 171.7C615.57 175.58 622.2 181.45 626.7 185C631.2 188.55 634.37 190.5 637 193C639.63 195.5 641.3 197.5 642.5 200C643.7 202.5 643.95 205.17 644.2 208C644.45 210.83 644.53 214.22 644 217C643.47 219.78 642.57 222.77 641 224.7C639.43 226.63 637.1 227.58 634.6 228.6C632.1 229.62 627.77 229.9 626 230.8C624.23 231.7 624.3 231.63 624 234C623.7 236.37 624.03 240.12 624.2 245C624.37 249.88 625.1 254.68 625 263.3C624.9 271.92 623.88 288.58 623.6 296.7C623.32 304.82 622.78 308.53 623.3 312C623.82 315.47 623.92 315.95 626.7 317.5C629.48 319.05 636.4 319.38 640 321.3C643.6 323.22 646.5 325.88 648.3 329C650.1 332.12 650.77 336.67 650.8 340C650.83 343.33 650.3 345.12 648.5 349C646.7 352.88 643.63 359.25 640 363.3C636.37 367.35 631.7 369.68 626.7 373.3C621.7 376.92 615.57 381.67 610 385C604.43 388.33 601.63 390.8 593.3 393.3C584.97 395.8 569.72 398.05 560 400C550.28 401.95 543.33 403.47 535 405C526.67 406.53 519.72 407.95 510 409.2C500.28 410.45 487.82 411.73 476.7 412.5C465.58 413.27 457.2 413.22 443.3 413.8C429.4 414.38 411.07 415.52 393.3 416C375.53 416.48 351.7 416.87 336.7 416.7C321.7 416.53 313.03 415.83 303.3 415C293.57 414.17 286.63 413.37 278.3 411.7C269.97 410.03 260.95 407.28 253.3 405C245.65 402.72 239 400.88 232.4 398C225.8 395.12 219.93 391.28 213.7 387.7C207.47 384.12 201.25 381.18 195 376.5C188.75 371.82 182.03 364.57 176.2 359.6C170.37 354.63 164.68 351.38 160 346.7C155.32 342.02 151.65 337.15 148.1 331.5C144.55 325.85 141.55 318.38 138.7 312.8C135.85 307.22 132.65 302.63 131 298C129.35 293.37 129.2 289.67 128.8 285C128.4 280.33 129.37 273.83 128.6 270C127.83 266.17 124.93 272.63 124.2 262Z" fill="#000" filter="url(#fc)"/>
<path d="M480 165C484.17 160 506.67 158.33 520 160C533.33 161.67 548.33 167.5 560 175C571.67 182.5 583.33 194.17 590 205C596.67 215.83 600.83 230.5 600 240C599.17 249.5 591.67 257 585 262C578.33 267 567.5 272 560 270C552.5 268 546.67 259.17 540 250C533.33 240.83 527.5 225 520 215C512.5 205 501.67 198.33 495 190C488.33 181.67 475.83 170 480 165Z" fill="#7ee67c" filter="url(#fb)" opacity="0.75"/>
<path d="M455 178C456.67 167.67 462.17 168 468 166C473.83 164 482.67 163.33 490 166C497.33 168.67 505.33 175.5 512 182C518.67 188.5 524.5 196.17 530 205C535.5 213.83 541.67 225.5 545 235C548.33 244.5 550 252.83 550 262C550 271.17 546.67 281.17 545 290C543.33 298.83 541.67 305.83 540 315C538.33 324.17 536.67 335.17 535 345C533.33 354.83 535.83 368 530 374C524.17 380 510 380.33 500 381C490 381.67 479.17 379 470 378C460.83 377 452.5 376.67 445 375C437.5 373.33 430.83 372.5 425 368C419.17 363.5 413.33 355.67 410 348C406.67 340.33 406.67 329.67 405 322C403.33 314.33 403.83 307 400 302C396.17 297 382.83 294.83 382 292C381.17 289.17 388.67 288.33 395 285C401.33 281.67 411.67 277.17 420 272C428.33 266.83 438.67 261.33 445 254C451.33 246.67 456.33 240.67 458 228C459.67 215.33 453.33 188.33 455 178Z" fill="#8ce870" filter="url(#fb)" opacity="0.9"/>
<path d="M402 290C409.83 287.83 418.67 287.83 430 287C441.33 286.17 456.33 284.67 470 285C483.67 285.33 500.67 286.5 512 289C523.33 291.5 533 294.83 538 300C543 305.17 543 312.5 542 320C541 327.5 534.33 336.33 532 345C529.67 353.67 533.33 366.67 528 372C522.67 377.33 509.67 376.5 500 377C490.33 377.5 479.17 376 470 375C460.83 374 452.5 372.67 445 371C437.5 369.33 430.5 369.33 425 365C419.5 360.67 415 352.5 412 345C409 337.5 411.83 327.5 407 320C402.17 312.5 383.83 305 383 300C382.17 295 394.17 292.17 402 290Z" fill="#f2ee1e" opacity="0.6" filter="url(#fb)"/>
<path d="M462 185C462.67 190 466 205 466 215C466 225 464.67 236.67 462 245C459.33 253.33 452 261.67 450 265" fill="none" stroke="#f2ee1e" stroke-width="9" stroke-linecap="round" stroke-linejoin="round" opacity="0.55" filter="url(#fb2)"/>
<path d="M340 170C341.67 165.33 353.33 160.67 360 160C366.67 159.33 374.17 163.5 380 166C385.83 168.5 395 172 395 175C395 178 387.5 181.83 380 184C372.5 186.17 356.67 190.33 350 188C343.33 185.67 338.33 174.67 340 170Z" fill="#8ce870" filter="url(#fb2)" opacity="0.6"/>
<path d="M456 185C457.83 176.67 464 177.17 468 178C472 178.83 477.67 181.33 480 190C482.33 198.67 480.33 216.67 482 230C483.67 243.33 483.67 261.33 490 270C496.33 278.67 510.83 277 520 282C529.17 287 541.33 292.83 545 300C548.67 307.17 543.83 316.67 542 325C540.17 333.33 536 341.5 534 350C532 358.5 535.67 370.83 530 376C524.33 381.17 510 380.67 500 381C490 381.33 479.17 379 470 378C460.83 377 452.5 376.67 445 375C437.5 373.33 430.83 372.5 425 368C419.17 363.5 413.33 355.67 410 348C406.67 340.33 406.67 329.67 405 322C403.33 314.33 403.5 306.83 400 302C396.5 297.17 384.67 295.67 384 293C383.33 290.33 390 289.5 396 286C402 282.5 411.83 277.33 420 272C428.17 266.67 438.83 261.33 445 254C451.17 246.67 455.17 239.5 457 228C458.83 216.5 454.17 193.33 456 185Z" fill="#000" filter="url(#fy)"/>
<path d="M480 165C484.17 160 506.67 158.33 520 160C533.33 161.67 548.33 167.5 560 175C571.67 182.5 583.33 194.17 590 205C596.67 215.83 600.83 230.5 600 240C599.17 249.5 591.67 257 585 262C578.33 267 567.5 272 560 270C552.5 268 546.67 259.17 540 250C533.33 240.83 527.5 225 520 215C512.5 205 501.67 198.33 495 190C488.33 181.67 475.83 170 480 165Z" fill="#000" filter="url(#fy2)"/>
</g>
<path d="M251.7 165.8C255.87 164.13 255.87 165.1 261.7 163.3C267.53 161.5 279.77 157.08 286.7 155C293.63 152.92 294.97 151.77 303.3 150.8C311.63 149.83 328.37 149.05 336.7 149.2C345.03 149.35 346.37 150.6 353.3 151.7C360.23 152.8 372.73 154.13 378.3 155.8C383.87 157.47 382.53 160.45 386.7 161.7C390.87 162.95 399.42 162.2 403.3 163.3C407.18 164.4 409.43 166.35 410 168.3C410.57 170.25 409.2 172.77 406.7 175C404.2 177.23 399.73 180.03 395 181.7C390.27 183.37 383.85 184.17 378.3 185C372.75 185.83 365.87 186 361.7 186.7C357.53 187.4 356.63 186.98 353.3 189.2C349.97 191.42 344.47 196.82 341.7 200C338.93 203.18 337.68 203.3 336.7 208.3C335.72 213.3 336.63 225.27 335.8 230C334.97 234.73 333.22 235.03 331.7 236.7C330.18 238.37 327.82 237.78 326.7 240C325.58 242.22 326.12 246.67 325 250C323.88 253.33 320.83 256.38 320 260C319.17 263.62 320.42 268.08 320 271.7C319.58 275.32 315.83 279.32 317.5 281.7C319.17 284.08 319.87 285.03 330 286C340.13 286.97 370.13 285.72 378.3 287.5C386.47 289.28 380.67 294.33 379 296.7C377.33 299.07 370.35 299.48 368.3 301.7C366.25 303.92 367.8 306.95 366.7 310C365.6 313.05 362.82 315.55 361.7 320C360.58 324.45 360.83 332.25 360 336.7C359.17 341.15 358.37 343.37 356.7 346.7C355.03 350.03 352.23 353.37 350 356.7C347.77 360.03 345.8 363.37 343.3 366.7C340.8 370.03 337.77 373.93 335 376.7C332.23 379.47 329.2 381.63 326.7 383.3C324.2 384.97 323.9 385.67 320 386.7C316.1 387.73 308.85 389.2 303.3 389.5C297.75 389.8 292.25 389.25 286.7 388.5C281.15 387.75 275.57 386.58 270 385C264.43 383.42 258.85 381.78 253.3 379C247.75 376.22 241.7 372.3 236.7 368.3C231.7 364.3 227.2 359.17 223.3 355C219.4 350.83 216.07 347.47 213.3 343.3C210.53 339.13 208.92 334.22 206.7 330C204.48 325.78 201.78 321.67 200 318C198.22 314.33 197.62 310.83 196 308C194.38 305.17 191.73 305.17 190.3 301C188.87 296.83 188.5 287.55 187.4 283C186.3 278.45 184.93 276.98 183.7 273.7C182.47 270.42 180.62 267.8 180 263.3C179.38 258.8 179.58 251.42 180 246.7C180.42 241.98 181.08 238.53 182.5 235C183.92 231.47 186.08 228.92 188.5 225.5C190.92 222.08 194.37 218.73 197 214.5C199.63 210.27 201.97 203.93 204.3 200.1C206.63 196.27 207.83 194.57 211 191.5C214.17 188.43 219.02 184.73 223.3 181.7C227.58 178.67 231.97 175.95 236.7 173.3C241.43 170.65 247.53 167.47 251.7 165.8Z" fill="#020089"/>
<path d="M591 258.3C593.17 258.42 595.5 259.47 597 261.7C598.5 263.93 599.5 267.27 600 271.7C600.5 276.13 600.5 283.58 600 288.3C599.5 293.02 597.95 295.27 597 300C596.05 304.73 595.18 312.25 594.3 316.7C593.42 321.15 593.25 323.93 591.7 326.7C590.15 329.47 587.5 329.97 585 333.3C582.5 336.63 579.75 342.8 576.7 346.7C573.65 350.6 570.03 353.65 566.7 356.7C563.37 359.75 560.03 362.78 556.7 365C553.37 367.22 550.87 368.88 546.7 370C542.53 371.12 534.2 375.58 531.7 371.7C529.2 367.82 529.77 352.53 531.7 346.7C533.63 340.87 539.97 338.93 543.3 336.7C546.63 334.47 551.7 335.53 551.7 333.3C551.7 331.07 545.1 326.68 543.3 323.3C541.5 319.92 540.52 315.88 540.9 313C541.28 310.12 544.08 308.5 545.6 306C547.12 303.5 548.43 300.5 550 298C551.57 295.5 553.33 293.38 555 291C556.67 288.62 557.98 286.48 560 283.7C562.02 280.92 564.5 277.12 567.1 274.3C569.7 271.48 572.78 269.02 575.6 266.8C578.42 264.58 581.43 262.42 584 261C586.57 259.58 588.83 258.18 591 258.3Z" fill="#020089"/>
<ellipse cx="505" cy="214.5" rx="9.5" ry="3.8" fill="#020089" transform="rotate(28 505 214.5)"/>
<ellipse cx="543.7" cy="264" rx="5.8" ry="10.5" fill="#020089" transform="rotate(8 543.7 264)"/>
<ellipse cx="563.4" cy="256.3" rx="5.6" ry="4.7" fill="#020089"/>
<ellipse cx="520" cy="318" rx="4.5" ry="4.5" fill="#020089"/>
<ellipse cx="521.7" cy="333" rx="5" ry="4.5" fill="#020089"/>
<ellipse cx="535" cy="333" rx="4" ry="4" fill="#020089"/>
<ellipse cx="456" cy="296.5" rx="32" ry="12.5" fill="#d32307" transform="rotate(3 456 296.5)"/>
<ellipse cx="456" cy="294" rx="22.5" ry="6.6" fill="#020089" transform="rotate(1 456 294)"/>
<path d="M340.7 198.6C341.57 195.33 341.55 193.93 343.3 192.1C345.05 190.27 346.83 188.57 351.2 187.6C355.57 186.63 363.38 186.33 369.5 186.3C375.62 186.27 383.32 186.7 387.9 187.4C392.48 188.1 394.3 190.23 397 190.5C399.7 190.77 402.13 190.27 404.1 189C406.07 187.73 405.83 185.02 408.8 182.9C411.77 180.78 416.65 177.08 421.9 176.3C427.15 175.52 435.48 175.78 440.3 178.2C445.12 180.62 448.58 185.22 450.8 190.8C453.02 196.38 453.13 206 453.6 211.7C454.07 217.4 454.03 221.03 453.6 225C453.17 228.97 452.68 231.33 451 235.5C449.32 239.67 447.5 245.58 443.5 250C439.5 254.42 432.5 258.12 427 262C421.5 265.88 416.12 270.05 410.5 273.3C404.88 276.55 400.33 279.58 393.3 281.5C386.27 283.42 376.35 284.17 368.3 284.8C360.25 285.43 352.05 285.6 345 285.3C337.95 285 330 285 326 283C322 281 320.95 278.63 321 273.3C321.05 267.97 324.12 257.77 326.3 251C328.48 244.23 332.13 239.25 334.1 232.7C336.07 226.15 337 217.38 338.1 211.7C339.2 206.02 339.83 201.87 340.7 198.6Z" fill="#d32307"/>
<path d="M401 189C401 191.67 401.12 199.5 401 205C400.88 210.5 400.42 219.17 400.3 222" fill="none" stroke="#8ae88e" stroke-width="2.6" stroke-linecap="butt" stroke-linejoin="round" opacity="0.9"/>
<path d="M398.8 196C398.77 198.33 398.7 205.5 398.6 210C398.5 214.5 398.27 220.83 398.2 223" fill="none" stroke="#c89444" stroke-width="2.2" stroke-linecap="butt" stroke-linejoin="round" opacity="0.75"/>
<path d="M341 202 L340 215" fill="none" stroke="#e8b080" stroke-width="1.6" stroke-linecap="round" stroke-linejoin="round" opacity="0.7"/>
<ellipse cx="446.5" cy="338.4" rx="22.3" ry="20.3" fill="#d32307"/>
<ellipse cx="509" cy="295" rx="5" ry="6.5" fill="#d32307"/>
<ellipse cx="505" cy="318.3" rx="6.5" ry="11" fill="#d32307"/>
<ellipse cx="302.5" cy="283.3" rx="5.5" ry="4.6" fill="#d32307"/>
<ellipse cx="297.5" cy="303.3" rx="4.2" ry="3.8" fill="#d32307"/>
<path d="M368 311C371.67 307.17 379.33 308.83 385 309C390.67 309.17 398.5 308.5 402 312C405.5 315.5 405 324 406 330C407 336 406.33 344.33 408 348C409.67 351.67 414 350 416 352C418 354 418.33 356.67 420 360C421.67 363.33 423.67 367.67 426 372C428.33 376.33 433.33 383 434 386C434.67 389 432.33 390.5 430 390C427.67 389.5 423.33 385.33 420 383C416.67 380.67 413.67 376.17 410 376C406.33 375.83 401.5 380.67 398 382C394.5 383.33 390.67 381.33 389 384C387.33 386.67 388.5 393.67 388 398C387.5 402.33 387.17 408 386 410C384.83 412 382.17 412.33 381 410C379.83 407.67 379.5 400.33 379 396C378.5 391.67 380.17 386.33 378 384C375.83 381.67 370.33 383 366 382C361.67 381 356.33 377 352 378C347.67 379 343.67 385.5 340 388C336.33 390.5 332.33 393 330 393C327.67 393 326 390.17 326 388C326 385.83 327.67 382.67 330 380C332.33 377.33 336.67 375.33 340 372C343.33 368.67 347 364 350 360C353 356 355.83 352.67 358 348C360.17 343.33 361.33 338.17 363 332C364.67 325.83 364.33 314.83 368 311Z" fill="#d32307"/>
<path d="M373 317C375.5 314.33 381 313.83 385 314C389 314.17 394.67 315 397 318C399.33 321 399 327.83 399 332C399 336.17 399.33 340.67 397 343C394.67 345.33 389 346 385 346C381 346 375.5 345.67 373 343C370.5 340.33 370 334.33 370 330C370 325.67 370.5 319.67 373 317Z" fill="#f6b020" opacity="0.8" filter="url(#fb2)"/>
<path d="M340 376C340.67 373.33 347.33 369.67 350 370C352.67 370.33 356.67 375.33 356 378C355.33 380.67 348.67 386.33 346 386C343.33 385.67 339.33 378.67 340 376Z" fill="#f59a1c" opacity="0.7"/>
<path d="M414 372C414.33 371 419.67 373.67 422 376C424.33 378.33 428.33 385 428 386C427.67 387 422.33 384.33 420 382C417.67 379.67 413.67 373 414 372Z" fill="#f59a1c" opacity="0.7"/>
<ellipse cx="385.8" cy="363" rx="13.2" ry="9.4" fill="#22f2f4"/>
<path d="M376 139C378.67 137.33 389.33 139.67 400 140C410.67 140.33 430.33 140.5 440 141C449.67 141.5 454.33 141.5 458 143C461.67 144.5 463.33 147.5 462 150C460.67 152.5 455.33 156 450 158C444.67 160 438.33 161.5 430 162C421.67 162.5 407 161.67 400 161C393 160.33 390.67 159.83 388 158C385.33 156.17 386 153.17 384 150C382 146.83 373.33 140.67 376 139Z" fill="#d32307"/>
<path d="M420 148C423.83 146.17 438.33 146.67 445 147C451.67 147.33 458.33 147.83 460 150C461.67 152.17 459.17 157.83 455 160C450.83 162.17 440.5 163.33 435 163C429.5 162.67 424.5 160.5 422 158C419.5 155.5 416.17 149.83 420 148Z" fill="#f59a1c"/>
<path d="M392 150 L412 151" fill="none" stroke="#f0c030" stroke-width="3.5" stroke-linecap="round" stroke-linejoin="round" opacity="0.85"/>
<path d="M258.5 160.5C260.42 159.75 265.42 157.33 270 156C274.58 154.67 283.33 153.08 286 152.5" fill="none" stroke="#d32307" stroke-width="6.5" stroke-linecap="round" stroke-linejoin="round"/>
<path d="M196.8 200.1C199.13 199.23 203.8 198.92 205.2 200.1C206.6 201.28 206.43 204.77 205.2 207.2C203.97 209.63 199.82 212.37 197.8 214.7C195.78 217.03 194.83 219.33 193.1 221.2C191.37 223.07 189.75 225.12 187.4 225.9C185.05 226.68 180.23 227.3 179 225.9C177.77 224.5 178.9 220.15 180 217.5C181.1 214.85 183.73 212.03 185.6 210C187.47 207.97 189.33 206.95 191.2 205.3C193.07 203.65 194.47 200.97 196.8 200.1Z" fill="#d32307"/>
<path d="M178.5 270C178.75 273.33 179.42 284 180 290C180.58 296 181.67 303.33 182 306" fill="none" stroke="#d32307" stroke-width="8" stroke-linecap="butt" stroke-linejoin="round"/>
<path d="M174 272C174.17 275 174.67 285.33 175 290C175.33 294.67 175.83 298.33 176 300" fill="none" stroke="#f59a1c" stroke-width="2.5" stroke-linecap="round" stroke-linejoin="round" opacity="0.9"/>
<path d="M185 290 L186 306" fill="none" stroke="#f2ee1e" stroke-width="3" stroke-linecap="round" stroke-linejoin="round" opacity="0.9"/>
<path d="M139 279C141 277.83 146.83 279.17 150 281C153.17 282.83 156.5 286.83 158 290C159.5 293.17 160.33 298.17 159 300C157.67 301.83 152.83 301.67 150 301C147.17 300.33 144 298.17 142 296C140 293.83 138.5 290.83 138 288C137.5 285.17 137 280.17 139 279Z" fill="#d32307"/>
<path d="M158 300C159.17 301.83 162.58 307.33 165 311C167.42 314.67 170.33 317.83 172.5 322C174.67 326.17 175.82 332.07 178 336C180.18 339.93 182.77 342.77 185.6 345.6C188.43 348.43 192.1 350.6 195 353C197.9 355.4 201.67 358.83 203 360" fill="none" stroke="#d32307" stroke-width="4.6" stroke-linecap="round" stroke-linejoin="round"/>
<path d="M211 357C213 358.42 218.67 361.92 223 365.5C227.33 369.08 231.5 374.83 237 378.5C242.5 382.17 248.17 385.17 256 387.5C263.83 389.83 278.17 391.33 284 392.5C289.83 393.67 289.83 394.17 291 394.5" fill="none" stroke="#d32307" stroke-width="10.5" stroke-linecap="round" stroke-linejoin="round"/>
<path d="M584 211.5C585.25 209.32 589.6 210.15 592.4 212.5C595.2 214.85 599.23 222.02 600.8 225.6C602.37 229.18 602.88 232.6 601.8 234C600.72 235.4 597.12 235.4 594.3 234C591.48 232.6 586.62 229.35 584.9 225.6C583.18 221.85 582.75 213.68 584 211.5Z" fill="#d32307"/>
<ellipse cx="608.3" cy="248" rx="7.6" ry="10.6" fill="#d32307"/>
<path d="M605.5 283C604.92 285.83 603.25 294.17 602 300C600.75 305.83 598.67 315 598 318" fill="none" stroke="#d32307" stroke-width="9.5" stroke-linecap="butt" stroke-linejoin="round"/>
<path d="M540 394C545.83 392.67 565 390.67 575 386C585 381.33 593.33 371.5 600 366C606.67 360.5 612.5 355.17 615 353" fill="none" stroke="#d32307" stroke-width="4" stroke-linecap="round" stroke-linejoin="round"/>
<path d="M612 354.5C613.67 353.67 618.83 350.67 622 349.5C625.17 348.33 629.5 347.83 631 347.5" fill="none" stroke="#d32307" stroke-width="11" stroke-linecap="round" stroke-linejoin="round"/>
<path d="M503 157C505.83 158.83 514.17 164.17 520 168C525.83 171.83 535 178 538 180" fill="none" stroke="#f59a1c" stroke-width="3.5" stroke-linecap="round" stroke-linejoin="round"/>
<path d="M328 386 L340 389" fill="none" stroke="#d32307" stroke-width="7" stroke-linecap="round" stroke-linejoin="round"/>
<path d="M190 421.5C200 422.92 226.67 427.17 250 430C273.33 432.83 301.67 436.75 330 438.5C358.33 440.25 388.33 440.33 420 440.5C451.67 440.67 490 440.5 520 439.5C550 438.5 586.67 435.33 600 434.5" fill="none" stroke="#0a22e6" stroke-width="2.4" stroke-linecap="round" stroke-linejoin="round" opacity="0.65"/>
<path d="M330 438.5 L360 439.5" fill="none" stroke="#1a50ff" stroke-width="2.4" stroke-linecap="round" stroke-linejoin="round" opacity="0.8"/>
<line x1="565.2" y1="294.4" x2="651.4" y2="294.4" stroke="#c01848" stroke-width="7.6" opacity="0.92"/>
</g></g>
<line x1="830.05" y1="45.2" x2="1368.6" y2="45.2" stroke="#000" stroke-width="3.3"/>
<line x1="830.05" y1="519.8" x2="1368.6" y2="519.8" stroke="#000010" stroke-width="2.9"/>
<line x1="831.3" y1="46.6" x2="831.3" y2="521" stroke="#00002a" stroke-width="2.5"/>
<line x1="1367.2" y1="43.8" x2="1367.2" y2="521" stroke="#000" stroke-width="3.2"/>
<line x1="967.4" y1="519.8" x2="967.4" y2="512.8" stroke="#00001e" stroke-width="2"/>
<line x1="1109.1" y1="519.8" x2="1109.1" y2="512.8" stroke="#00001e" stroke-width="2"/>
<line x1="1248.3" y1="519.8" x2="1248.3" y2="512.8" stroke="#00001e" stroke-width="2"/>
<line x1="831.3" y1="166.5" x2="837.3" y2="166.5" stroke="#00001e" stroke-width="2" opacity="0.7"/>
<line x1="1367.2" y1="166.5" x2="1361.2" y2="166.5" stroke="#00001e" stroke-width="2" opacity="0.7"/>
<line x1="831.3" y1="290" x2="837.3" y2="290" stroke="#00001e" stroke-width="2" opacity="0.7"/>
<line x1="1367.2" y1="290" x2="1361.2" y2="290" stroke="#00001e" stroke-width="2" opacity="0.7"/>
<line x1="831.3" y1="410.5" x2="837.3" y2="410.5" stroke="#00001e" stroke-width="2" opacity="0.7"/>
<line x1="1367.2" y1="410.5" x2="1361.2" y2="410.5" stroke="#00001e" stroke-width="2" opacity="0.7"/>
</g>
<g id="ct3">
<clipPath id="cc2"><rect x="1538" y="45.2" width="538.5" height="474.6"/></clipPath>
<rect x="1538" y="45.2" width="538.5" height="474.6" fill="#020089"/>
<g clip-path="url(#cc2)"><g transform="translate(1417.3 0)">
<clipPath id="bodyclip2"><path d="M124.2 262C123.47 251.37 123.33 216.37 124.2 206.2C125.07 196.03 125.93 203.98 129.4 201C132.87 198.02 140.18 191.8 145 188.3C149.82 184.8 153.85 182.77 158.3 180C162.75 177.23 166.42 174.48 171.7 171.7C176.98 168.92 183.07 166.08 190 163.3C196.93 160.52 202.18 157.77 213.3 155C224.42 152.23 244.47 149.2 256.7 146.7C268.93 144.2 278.93 141.62 286.7 140C294.47 138.38 289.42 137.6 303.3 137C317.18 136.4 344.43 136.32 370 136.4C395.57 136.48 438.92 136.77 456.7 137.5C474.48 138.23 470.6 139.83 476.7 140.8C482.8 141.77 482.2 142.6 493.3 143.3C504.4 144 532.18 144.02 543.3 145C554.42 145.98 554.43 147.53 560 149.2C565.57 150.87 571.15 152.92 576.7 155C582.25 157.08 587.75 158.92 593.3 161.7C598.85 164.48 604.43 167.82 610 171.7C615.57 175.58 622.2 181.45 626.7 185C631.2 188.55 634.37 190.5 637 193C639.63 195.5 641.3 197.5 642.5 200C643.7 202.5 643.95 205.17 644.2 208C644.45 210.83 644.53 214.22 644 217C643.47 219.78 642.57 222.77 641 224.7C639.43 226.63 637.1 227.58 634.6 228.6C632.1 229.62 627.77 229.9 626 230.8C624.23 231.7 624.3 231.63 624 234C623.7 236.37 624.03 240.12 624.2 245C624.37 249.88 625.1 254.68 625 263.3C624.9 271.92 623.88 288.58 623.6 296.7C623.32 304.82 622.78 308.53 623.3 312C623.82 315.47 623.92 315.95 626.7 317.5C629.48 319.05 636.4 319.38 640 321.3C643.6 323.22 646.5 325.88 648.3 329C650.1 332.12 650.77 336.67 650.8 340C650.83 343.33 650.3 345.12 648.5 349C646.7 352.88 643.63 359.25 640 363.3C636.37 367.35 631.7 369.68 626.7 373.3C621.7 376.92 615.57 381.67 610 385C604.43 388.33 601.63 390.8 593.3 393.3C584.97 395.8 569.72 398.05 560 400C550.28 401.95 543.33 403.47 535 405C526.67 406.53 519.72 407.95 510 409.2C500.28 410.45 487.82 411.73 476.7 412.5C465.58 413.27 457.2 413.22 443.3 413.8C429.4 414.38 411.07 415.52 393.3 416C375.53 416.48 351.7 416.87 336.7 416.7C321.7 416.53 313.03 415.83 303.3 415C293.57 414.17 286.63 413.37 278.3 411.7C269.97 410.03 260.95 407.28 253.3 405C245.65 402.72 239 400.88 232.4 398C225.8 395.12 219.93 391.28 213.7 387.7C207.47 384.12 201.25 381.18 195 376.5C188.75 371.82 182.03 364.57 176.2 359.6C170.37 354.63 164.68 351.38 160 346.7C155.32 342.02 151.65 337.15 148.1 331.5C144.55 325.85 141.55 318.38 138.7 312.8C135.85 307.22 132.65 302.63 131 298C129.35 293.37 129.2 289.67 128.8 285C128.4 280.33 129.37 273.83 128.6 270C127.83 266.17 124.93 272.63 124.2 262Z"/></clipPath>
<path d="M124.2 262C123.47 251.37 123.33 216.37 124.2 206.2C125.07 196.03 125.93 203.98 129.4 201C132.87 198.02 140.18 191.8 145 188.3C149.82 184.8 153.85 182.77 158.3 180C162.75 177.23 166.42 174.48 171.7 171.7C176.98 168.92 183.07 166.08 190 163.3C196.93 160.52 202.18 157.77 213.3 155C224.42 152.23 244.47 149.2 256.7 146.7C268.93 144.2 278.93 141.62 286.7 140C294.47 138.38 289.42 137.6 303.3 137C317.18 136.4 344.43 136.32 370 136.4C395.57 136.48 438.92 136.77 456.7 137.5C474.48 138.23 470.6 139.83 476.7 140.8C482.8 141.77 482.2 142.6 493.3 143.3C504.4 144 532.18 144.02 543.3 145C554.42 145.98 554.43 147.53 560 149.2C565.57 150.87 571.15 152.92 576.7 155C582.25 157.08 587.75 158.92 593.3 161.7C598.85 164.48 604.43 167.82 610 171.7C615.57 175.58 622.2 181.45 626.7 185C631.2 188.55 634.37 190.5 637 193C639.63 195.5 641.3 197.5 642.5 200C643.7 202.5 643.95 205.17 644.2 208C644.45 210.83 644.53 214.22 644 217C643.47 219.78 642.57 222.77 641 224.7C639.43 226.63 637.1 227.58 634.6 228.6C632.1 229.62 627.77 229.9 626 230.8C624.23 231.7 624.3 231.63 624 234C623.7 236.37 624.03 240.12 624.2 245C624.37 249.88 625.1 254.68 625 263.3C624.9 271.92 623.88 288.58 623.6 296.7C623.32 304.82 622.78 308.53 623.3 312C623.82 315.47 623.92 315.95 626.7 317.5C629.48 319.05 636.4 319.38 640 321.3C643.6 323.22 646.5 325.88 648.3 329C650.1 332.12 650.77 336.67 650.8 340C650.83 343.33 650.3 345.12 648.5 349C646.7 352.88 643.63 359.25 640 363.3C636.37 367.35 631.7 369.68 626.7 373.3C621.7 376.92 615.57 381.67 610 385C604.43 388.33 601.63 390.8 593.3 393.3C584.97 395.8 569.72 398.05 560 400C550.28 401.95 543.33 403.47 535 405C526.67 406.53 519.72 407.95 510 409.2C500.28 410.45 487.82 411.73 476.7 412.5C465.58 413.27 457.2 413.22 443.3 413.8C429.4 414.38 411.07 415.52 393.3 416C375.53 416.48 351.7 416.87 336.7 416.7C321.7 416.53 313.03 415.83 303.3 415C293.57 414.17 286.63 413.37 278.3 411.7C269.97 410.03 260.95 407.28 253.3 405C245.65 402.72 239 400.88 232.4 398C225.8 395.12 219.93 391.28 213.7 387.7C207.47 384.12 201.25 381.18 195 376.5C188.75 371.82 182.03 364.57 176.2 359.6C170.37 354.63 164.68 351.38 160 346.7C155.32 342.02 151.65 337.15 148.1 331.5C144.55 325.85 141.55 318.38 138.7 312.8C135.85 307.22 132.65 302.63 131 298C129.35 293.37 129.2 289.67 128.8 285C128.4 280.33 129.37 273.83 128.6 270C127.83 266.17 124.93 272.63 124.2 262Z" fill="#5ae29a"/>
<g clip-path="url(#bodyclip2)">
<path d="M150 202C154.17 201.33 167.5 197.83 175 198C182.5 198.17 191.67 202.17 195 203" fill="none" stroke="#22f2f4" stroke-width="9" stroke-linecap="round" stroke-linejoin="round" opacity="0.6" filter="url(#fb2)"/>
<path d="M160 225C162 226.67 170.67 230.83 172 235C173.33 239.17 168.67 247.5 168 250" fill="none" stroke="#22f2f4" stroke-width="11" stroke-linecap="round" stroke-linejoin="round" opacity="0.5" filter="url(#fb2)"/>
<path d="M166 285C167 287.5 169.67 294.5 172 300C174.33 305.5 177 312.5 180 318C183 323.5 186.67 328.5 190 333C193.33 337.5 198.33 343 200 345" fill="none" stroke="#22f2f4" stroke-width="9" stroke-linecap="round" stroke-linejoin="round" opacity="0.6" filter="url(#fb2)"/>
<path d="M330 392C335 392.5 348.33 394.67 360 395C371.67 395.33 393.33 394.17 400 394" fill="none" stroke="#22f2f4" stroke-width="8" stroke-linecap="round" stroke-linejoin="round" opacity="0.55" filter="url(#fb2)"/>
<path d="M415 330 L418 345" fill="none" stroke="#22f2f4" stroke-width="12" stroke-linecap="round" stroke-linejoin="round" opacity="0.7" filter="url(#fb2)"/>
<path d="M432 381C438.33 382 455.33 386.33 470 387C484.67 387.67 505 386.67 520 385C535 383.33 549.17 381.33 560 377C570.83 372.67 578.67 365 585 359C591.33 353 595.83 344 598 341" fill="none" stroke="#22f2f4" stroke-width="15" stroke-linecap="round" stroke-linejoin="round" opacity="0.85" filter="url(#fb2)"/>
<path d="M600 395C604.17 392.5 618.33 385.83 625 380C631.67 374.17 637.5 363.33 640 360" fill="none" stroke="#22f2f4" stroke-width="9" stroke-linecap="round" stroke-linejoin="round" opacity="0.35" filter="url(#fb2)"/>
<path d="M612 300C612 303.33 613.17 313.33 612 320C610.83 326.67 606.17 336.67 605 340" fill="none" stroke="#22f2f4" stroke-width="9" stroke-linecap="round" stroke-linejoin="round" opacity="0.55" filter="url(#fb2)"/>
<path d="M500 232C503.33 233.33 512.5 237.83 520 240C527.5 242.17 540.83 244.17 545 245" fill="none" stroke="#22f2f4" stroke-width="12" stroke-linecap="round" stroke-linejoin="round" opacity="0.5" filter="url(#fb2)"/>
<path d="M420 268 L440 258" fill="none" stroke="#22f2f4" stroke-width="8" stroke-linecap="round" stroke-linejoin="round" opacity="0.55" filter="url(#fb2)"/>
<path d="M625 200 L637 210" fill="none" stroke="#22f2f4" stroke-width="8" stroke-linecap="round" stroke-linejoin="round" opacity="0.4" filter="url(#fb2)"/>
<path d="M124.2 262C123.47 251.37 123.33 216.37 124.2 206.2C125.07 196.03 125.93 203.98 129.4 201C132.87 198.02 140.18 191.8 145 188.3C149.82 184.8 153.85 182.77 158.3 180C162.75 177.23 166.42 174.48 171.7 171.7C176.98 168.92 183.07 166.08 190 163.3C196.93 160.52 202.18 157.77 213.3 155C224.42 152.23 244.47 149.2 256.7 146.7C268.93 144.2 278.93 141.62 286.7 140C294.47 138.38 289.42 137.6 303.3 137C317.18 136.4 344.43 136.32 370 136.4C395.57 136.48 438.92 136.77 456.7 137.5C474.48 138.23 470.6 139.83 476.7 140.8C482.8 141.77 482.2 142.6 493.3 143.3C504.4 144 532.18 144.02 543.3 145C554.42 145.98 554.43 147.53 560 149.2C565.57 150.87 571.15 152.92 576.7 155C582.25 157.08 587.75 158.92 593.3 161.7C598.85 164.48 604.43 167.82 610 171.7C615.57 175.58 622.2 181.45 626.7 185C631.2 188.55 634.37 190.5 637 193C639.63 195.5 641.3 197.5 642.5 200C643.7 202.5 643.95 205.17 644.2 208C644.45 210.83 644.53 214.22 644 217C643.47 219.78 642.57 222.77 641 224.7C639.43 226.63 637.1 227.58 634.6 228.6C632.1 229.62 627.77 229.9 626 230.8C624.23 231.7 624.3 231.63 624 234C623.7 236.37 624.03 240.12 624.2 245C624.37 249.88 625.1 254.68 625 263.3C624.9 271.92 623.88 288.58 623.6 296.7C623.32 304.82 622.78 308.53 623.3 312C623.82 315.47 623.92 315.95 626.7 317.5C629.48 319.05 636.4 319.38 640 321.3C643.6 323.22 646.5 325.88 648.3 329C650.1 332.12 650.77 336.67 650.8 340C650.83 343.33 650.3 345.12 648.5 349C646.7 352.88 643.63 359.25 640 363.3C636.37 367.35 631.7 369.68 626.7 373.3C621.7 376.92 615.57 381.67 610 385C604.43 388.33 601.63 390.8 593.3 393.3C584.97 395.8 569.72 398.05 560 400C550.28 401.95 543.33 403.47 535 405C526.67 406.53 519.72 407.95 510 409.2C500.28 410.45 487.82 411.73 476.7 412.5C465.58 413.27 457.2 413.22 443.3 413.8C429.4 414.38 411.07 415.52 393.3 416C375.53 416.48 351.7 416.87 336.7 416.7C321.7 416.53 313.03 415.83 303.3 415C293.57 414.17 286.63 413.37 278.3 411.7C269.97 410.03 260.95 407.28 253.3 405C245.65 402.72 239 400.88 232.4 398C225.8 395.12 219.93 391.28 213.7 387.7C207.47 384.12 201.25 381.18 195 376.5C188.75 371.82 182.03 364.57 176.2 359.6C170.37 354.63 164.68 351.38 160 346.7C155.32 342.02 151.65 337.15 148.1 331.5C144.55 325.85 141.55 318.38 138.7 312.8C135.85 307.22 132.65 302.63 131 298C129.35 293.37 129.2 289.67 128.8 285C128.4 280.33 129.37 273.83 128.6 270C127.83 266.17 124.93 272.63 124.2 262Z" fill="#000" filter="url(#fc)"/>
<path d="M480 165C484.17 160 506.67 158.33 520 160C533.33 161.67 548.33 167.5 560 175C571.67 182.5 583.33 194.17 590 205C596.67 215.83 600.83 230.5 600 240C599.17 249.5 591.67 257 585 262C578.33 267 567.5 272 560 270C552.5 268 546.67 259.17 540 250C533.33 240.83 527.5 225 520 215C512.5 205 501.67 198.33 495 190C488.33 181.67 475.83 170 480 165Z" fill="#7ee67c" filter="url(#fb)" opacity="0.75"/>
<path d="M455 178C456.67 167.67 462.17 168 468 166C473.83 164 482.67 163.33 490 166C497.33 168.67 505.33 175.5 512 182C518.67 188.5 524.5 196.17 530 205C535.5 213.83 541.67 225.5 545 235C548.33 244.5 550 252.83 550 262C550 271.17 546.67 281.17 545 290C543.33 298.83 541.67 305.83 540 315C538.33 324.17 536.67 335.17 535 345C533.33 354.83 535.83 368 530 374C524.17 380 510 380.33 500 381C490 381.67 479.17 379 470 378C460.83 377 452.5 376.67 445 375C437.5 373.33 430.83 372.5 425 368C419.17 363.5 413.33 355.67 410 348C406.67 340.33 406.67 329.67 405 322C403.33 314.33 403.83 307 400 302C396.17 297 382.83 294.83 382 292C381.17 289.17 388.67 288.33 395 285C401.33 281.67 411.67 277.17 420 272C428.33 266.83 438.67 261.33 445 254C451.33 246.67 456.33 240.67 458 228C459.67 215.33 453.33 188.33 455 178Z" fill="#8ce870" filter="url(#fb)" opacity="0.9"/>
<path d="M402 290C409.83 287.83 418.67 287.83 430 287C441.33 286.17 456.33 284.67 470 285C483.67 285.33 500.67 286.5 512 289C523.33 291.5 533 294.83 538 300C543 305.17 543 312.5 542 320C541 327.5 534.33 336.33 532 345C529.67 353.67 533.33 366.67 528 372C522.67 377.33 509.67 376.5 500 377C490.33 377.5 479.17 376 470 375C460.83 374 452.5 372.67 445 371C437.5 369.33 430.5 369.33 425 365C419.5 360.67 415 352.5 412 345C409 337.5 411.83 327.5 407 320C402.17 312.5 383.83 305 383 300C382.17 295 394.17 292.17 402 290Z" fill="#f2ee1e" opacity="0.6" filter="url(#fb)"/>
<path d="M462 185C462.67 190 466 205 466 215C466 225 464.67 236.67 462 245C459.33 253.33 452 261.67 450 265" fill="none" stroke="#f2ee1e" stroke-width="9" stroke-linecap="round" stroke-linejoin="round" opacity="0.55" filter="url(#fb2)"/>
<path d="M340 170C341.67 165.33 353.33 160.67 360 160C366.67 159.33 374.17 163.5 380 166C385.83 168.5 395 172 395 175C395 178 387.5 181.83 380 184C372.5 186.17 356.67 190.33 350 188C343.33 185.67 338.33 174.67 340 170Z" fill="#8ce870" filter="url(#fb2)" opacity="0.6"/>
<path d="M456 185C457.83 176.67 464 177.17 468 178C472 178.83 477.67 181.33 480 190C482.33 198.67 480.33 216.67 482 230C483.67 243.33 483.67 261.33 490 270C496.33 278.67 510.83 277 520 282C529.17 287 541.33 292.83 545 300C548.67 307.17 543.83 316.67 542 325C540.17 333.33 536 341.5 534 350C532 358.5 535.67 370.83 530 376C524.33 381.17 510 380.67 500 381C490 381.33 479.17 379 470 378C460.83 377 452.5 376.67 445 375C437.5 373.33 430.83 372.5 425 368C419.17 363.5 413.33 355.67 410 348C406.67 340.33 406.67 329.67 405 322C403.33 314.33 403.5 306.83 400 302C396.5 297.17 384.67 295.67 384 293C383.33 290.33 390 289.5 396 286C402 282.5 411.83 277.33 420 272C428.17 266.67 438.83 261.33 445 254C451.17 246.67 455.17 239.5 457 228C458.83 216.5 454.17 193.33 456 185Z" fill="#000" filter="url(#fy)"/>
<path d="M480 165C484.17 160 506.67 158.33 520 160C533.33 161.67 548.33 167.5 560 175C571.67 182.5 583.33 194.17 590 205C596.67 215.83 600.83 230.5 600 240C599.17 249.5 591.67 257 585 262C578.33 267 567.5 272 560 270C552.5 268 546.67 259.17 540 250C533.33 240.83 527.5 225 520 215C512.5 205 501.67 198.33 495 190C488.33 181.67 475.83 170 480 165Z" fill="#000" filter="url(#fy2)"/>
</g>
<path d="M251.7 165.8C255.87 164.13 255.87 165.1 261.7 163.3C267.53 161.5 279.77 157.08 286.7 155C293.63 152.92 294.97 151.77 303.3 150.8C311.63 149.83 328.37 149.05 336.7 149.2C345.03 149.35 346.37 150.6 353.3 151.7C360.23 152.8 372.73 154.13 378.3 155.8C383.87 157.47 382.53 160.45 386.7 161.7C390.87 162.95 399.42 162.2 403.3 163.3C407.18 164.4 409.43 166.35 410 168.3C410.57 170.25 409.2 172.77 406.7 175C404.2 177.23 399.73 180.03 395 181.7C390.27 183.37 383.85 184.17 378.3 185C372.75 185.83 365.87 186 361.7 186.7C357.53 187.4 356.63 186.98 353.3 189.2C349.97 191.42 344.47 196.82 341.7 200C338.93 203.18 337.68 203.3 336.7 208.3C335.72 213.3 336.63 225.27 335.8 230C334.97 234.73 333.22 235.03 331.7 236.7C330.18 238.37 327.82 237.78 326.7 240C325.58 242.22 326.12 246.67 325 250C323.88 253.33 320.83 256.38 320 260C319.17 263.62 320.42 268.08 320 271.7C319.58 275.32 315.83 279.32 317.5 281.7C319.17 284.08 319.87 285.03 330 286C340.13 286.97 370.13 285.72 378.3 287.5C386.47 289.28 380.67 294.33 379 296.7C377.33 299.07 370.35 299.48 368.3 301.7C366.25 303.92 367.8 306.95 366.7 310C365.6 313.05 362.82 315.55 361.7 320C360.58 324.45 360.83 332.25 360 336.7C359.17 341.15 358.37 343.37 356.7 346.7C355.03 350.03 352.23 353.37 350 356.7C347.77 360.03 345.8 363.37 343.3 366.7C340.8 370.03 337.77 373.93 335 376.7C332.23 379.47 329.2 381.63 326.7 383.3C324.2 384.97 323.9 385.67 320 386.7C316.1 387.73 308.85 389.2 303.3 389.5C297.75 389.8 292.25 389.25 286.7 388.5C281.15 387.75 275.57 386.58 270 385C264.43 383.42 258.85 381.78 253.3 379C247.75 376.22 241.7 372.3 236.7 368.3C231.7 364.3 227.2 359.17 223.3 355C219.4 350.83 216.07 347.47 213.3 343.3C210.53 339.13 208.92 334.22 206.7 330C204.48 325.78 201.78 321.67 200 318C198.22 314.33 197.62 310.83 196 308C194.38 305.17 191.73 305.17 190.3 301C188.87 296.83 188.5 287.55 187.4 283C186.3 278.45 184.93 276.98 183.7 273.7C182.47 270.42 180.62 267.8 180 263.3C179.38 258.8 179.58 251.42 180 246.7C180.42 241.98 181.08 238.53 182.5 235C183.92 231.47 186.08 228.92 188.5 225.5C190.92 222.08 194.37 218.73 197 214.5C199.63 210.27 201.97 203.93 204.3 200.1C206.63 196.27 207.83 194.57 211 191.5C214.17 188.43 219.02 184.73 223.3 181.7C227.58 178.67 231.97 175.95 236.7 173.3C241.43 170.65 247.53 167.47 251.7 165.8Z" fill="#020089"/>
<path d="M591 258.3C593.17 258.42 595.5 259.47 597 261.7C598.5 263.93 599.5 267.27 600 271.7C600.5 276.13 600.5 283.58 600 288.3C599.5 293.02 597.95 295.27 597 300C596.05 304.73 595.18 312.25 594.3 316.7C593.42 321.15 593.25 323.93 591.7 326.7C590.15 329.47 587.5 329.97 585 333.3C582.5 336.63 579.75 342.8 576.7 346.7C573.65 350.6 570.03 353.65 566.7 356.7C563.37 359.75 560.03 362.78 556.7 365C553.37 367.22 550.87 368.88 546.7 370C542.53 371.12 534.2 375.58 531.7 371.7C529.2 367.82 529.77 352.53 531.7 346.7C533.63 340.87 539.97 338.93 543.3 336.7C546.63 334.47 551.7 335.53 551.7 333.3C551.7 331.07 545.1 326.68 543.3 323.3C541.5 319.92 540.52 315.88 540.9 313C541.28 310.12 544.08 308.5 545.6 306C547.12 303.5 548.43 300.5 550 298C551.57 295.5 553.33 293.38 555 291C556.67 288.62 557.98 286.48 560 283.7C562.02 280.92 564.5 277.12 567.1 274.3C569.7 271.48 572.78 269.02 575.6 266.8C578.42 264.58 581.43 262.42 584 261C586.57 259.58 588.83 258.18 591 258.3Z" fill="#020089"/>
<ellipse cx="505" cy="214.5" rx="9.5" ry="3.8" fill="#020089" transform="rotate(28 505 214.5)"/>
<ellipse cx="543.7" cy="264" rx="5.8" ry="10.5" fill="#020089" transform="rotate(8 543.7 264)"/>
<ellipse cx="563.4" cy="256.3" rx="5.6" ry="4.7" fill="#020089"/>
<ellipse cx="520" cy="318" rx="4.5" ry="4.5" fill="#020089"/>
<ellipse cx="521.7" cy="333" rx="5" ry="4.5" fill="#020089"/>
<ellipse cx="535" cy="333" rx="4" ry="4" fill="#020089"/>
<ellipse cx="456" cy="296.5" rx="32" ry="12.5" fill="#d32307" transform="rotate(3 456 296.5)"/>
<ellipse cx="456" cy="294" rx="22.5" ry="6.6" fill="#020089" transform="rotate(1 456 294)"/>
<path d="M340.7 198.6C341.57 195.33 341.55 193.93 343.3 192.1C345.05 190.27 346.83 188.57 351.2 187.6C355.57 186.63 363.38 186.33 369.5 186.3C375.62 186.27 383.32 186.7 387.9 187.4C392.48 188.1 394.3 190.23 397 190.5C399.7 190.77 402.13 190.27 404.1 189C406.07 187.73 405.83 185.02 408.8 182.9C411.77 180.78 416.65 177.08 421.9 176.3C427.15 175.52 435.48 175.78 440.3 178.2C445.12 180.62 448.58 185.22 450.8 190.8C453.02 196.38 453.13 206 453.6 211.7C454.07 217.4 454.03 221.03 453.6 225C453.17 228.97 452.68 231.33 451 235.5C449.32 239.67 447.5 245.58 443.5 250C439.5 254.42 432.5 258.12 427 262C421.5 265.88 416.12 270.05 410.5 273.3C404.88 276.55 400.33 279.58 393.3 281.5C386.27 283.42 376.35 284.17 368.3 284.8C360.25 285.43 352.05 285.6 345 285.3C337.95 285 330 285 326 283C322 281 320.95 278.63 321 273.3C321.05 267.97 324.12 257.77 326.3 251C328.48 244.23 332.13 239.25 334.1 232.7C336.07 226.15 337 217.38 338.1 211.7C339.2 206.02 339.83 201.87 340.7 198.6Z" fill="#d32307"/>
<path d="M401 189C401 191.67 401.12 199.5 401 205C400.88 210.5 400.42 219.17 400.3 222" fill="none" stroke="#8ae88e" stroke-width="2.6" stroke-linecap="butt" stroke-linejoin="round" opacity="0.9"/>
<path d="M398.8 196C398.77 198.33 398.7 205.5 398.6 210C398.5 214.5 398.27 220.83 398.2 223" fill="none" stroke="#c89444" stroke-width="2.2" stroke-linecap="butt" stroke-linejoin="round" opacity="0.75"/>
<path d="M341 202 L340 215" fill="none" stroke="#e8b080" stroke-width="1.6" stroke-linecap="round" stroke-linejoin="round" opacity="0.7"/>
<ellipse cx="446.5" cy="338.4" rx="22.3" ry="20.3" fill="#d32307"/>
<ellipse cx="509" cy="295" rx="5" ry="6.5" fill="#d32307"/>
<ellipse cx="505" cy="318.3" rx="6.5" ry="11" fill="#d32307"/>
<ellipse cx="302.5" cy="283.3" rx="5.5" ry="4.6" fill="#d32307"/>
<ellipse cx="297.5" cy="303.3" rx="4.2" ry="3.8" fill="#d32307"/>
<path d="M368 311C371.67 307.17 379.33 308.83 385 309C390.67 309.17 398.5 308.5 402 312C405.5 315.5 405 324 406 330C407 336 406.33 344.33 408 348C409.67 351.67 414 350 416 352C418 354 418.33 356.67 420 360C421.67 363.33 423.67 367.67 426 372C428.33 376.33 433.33 383 434 386C434.67 389 432.33 390.5 430 390C427.67 389.5 423.33 385.33 420 383C416.67 380.67 413.67 376.17 410 376C406.33 375.83 401.5 380.67 398 382C394.5 383.33 390.67 381.33 389 384C387.33 386.67 388.5 393.67 388 398C387.5 402.33 387.17 408 386 410C384.83 412 382.17 412.33 381 410C379.83 407.67 379.5 400.33 379 396C378.5 391.67 380.17 386.33 378 384C375.83 381.67 370.33 383 366 382C361.67 381 356.33 377 352 378C347.67 379 343.67 385.5 340 388C336.33 390.5 332.33 393 330 393C327.67 393 326 390.17 326 388C326 385.83 327.67 382.67 330 380C332.33 377.33 336.67 375.33 340 372C343.33 368.67 347 364 350 360C353 356 355.83 352.67 358 348C360.17 343.33 361.33 338.17 363 332C364.67 325.83 364.33 314.83 368 311Z" fill="#d32307"/>
<path d="M373 317C375.5 314.33 381 313.83 385 314C389 314.17 394.67 315 397 318C399.33 321 399 327.83 399 332C399 336.17 399.33 340.67 397 343C394.67 345.33 389 346 385 346C381 346 375.5 345.67 373 343C370.5 340.33 370 334.33 370 330C370 325.67 370.5 319.67 373 317Z" fill="#f6b020" opacity="0.8" filter="url(#fb2)"/>
<path d="M340 376C340.67 373.33 347.33 369.67 350 370C352.67 370.33 356.67 375.33 356 378C355.33 380.67 348.67 386.33 346 386C343.33 385.67 339.33 378.67 340 376Z" fill="#f59a1c" opacity="0.7"/>
<path d="M414 372C414.33 371 419.67 373.67 422 376C424.33 378.33 428.33 385 428 386C427.67 387 422.33 384.33 420 382C417.67 379.67 413.67 373 414 372Z" fill="#f59a1c" opacity="0.7"/>
<ellipse cx="385.8" cy="363" rx="13.2" ry="9.4" fill="#22f2f4"/>
<path d="M376 139C378.67 137.33 389.33 139.67 400 140C410.67 140.33 430.33 140.5 440 141C449.67 141.5 454.33 141.5 458 143C461.67 144.5 463.33 147.5 462 150C460.67 152.5 455.33 156 450 158C444.67 160 438.33 161.5 430 162C421.67 162.5 407 161.67 400 161C393 160.33 390.67 159.83 388 158C385.33 156.17 386 153.17 384 150C382 146.83 373.33 140.67 376 139Z" fill="#d32307"/>
<path d="M420 148C423.83 146.17 438.33 146.67 445 147C451.67 147.33 458.33 147.83 460 150C461.67 152.17 459.17 157.83 455 160C450.83 162.17 440.5 163.33 435 163C429.5 162.67 424.5 160.5 422 158C419.5 155.5 416.17 149.83 420 148Z" fill="#f59a1c"/>
<path d="M392 150 L412 151" fill="none" stroke="#f0c030" stroke-width="3.5" stroke-linecap="round" stroke-linejoin="round" opacity="0.85"/>
<path d="M258.5 160.5C260.42 159.75 265.42 157.33 270 156C274.58 154.67 283.33 153.08 286 152.5" fill="none" stroke="#d32307" stroke-width="6.5" stroke-linecap="round" stroke-linejoin="round"/>
<path d="M196.8 200.1C199.13 199.23 203.8 198.92 205.2 200.1C206.6 201.28 206.43 204.77 205.2 207.2C203.97 209.63 199.82 212.37 197.8 214.7C195.78 217.03 194.83 219.33 193.1 221.2C191.37 223.07 189.75 225.12 187.4 225.9C185.05 226.68 180.23 227.3 179 225.9C177.77 224.5 178.9 220.15 180 217.5C181.1 214.85 183.73 212.03 185.6 210C187.47 207.97 189.33 206.95 191.2 205.3C193.07 203.65 194.47 200.97 196.8 200.1Z" fill="#d32307"/>
<path d="M178.5 270C178.75 273.33 179.42 284 180 290C180.58 296 181.67 303.33 182 306" fill="none" stroke="#d32307" stroke-width="8" stroke-linecap="butt" stroke-linejoin="round"/>
<path d="M174 272C174.17 275 174.67 285.33 175 290C175.33 294.67 175.83 298.33 176 300" fill="none" stroke="#f59a1c" stroke-width="2.5" stroke-linecap="round" stroke-linejoin="round" opacity="0.9"/>
<path d="M185 290 L186 306" fill="none" stroke="#f2ee1e" stroke-width="3" stroke-linecap="round" stroke-linejoin="round" opacity="0.9"/>
<path d="M139 279C141 277.83 146.83 279.17 150 281C153.17 282.83 156.5 286.83 158 290C159.5 293.17 160.33 298.17 159 300C157.67 301.83 152.83 301.67 150 301C147.17 300.33 144 298.17 142 296C140 293.83 138.5 290.83 138 288C137.5 285.17 137 280.17 139 279Z" fill="#d32307"/>
<path d="M158 300C159.17 301.83 162.58 307.33 165 311C167.42 314.67 170.33 317.83 172.5 322C174.67 326.17 175.82 332.07 178 336C180.18 339.93 182.77 342.77 185.6 345.6C188.43 348.43 192.1 350.6 195 353C197.9 355.4 201.67 358.83 203 360" fill="none" stroke="#d32307" stroke-width="4.6" stroke-linecap="round" stroke-linejoin="round"/>
<path d="M211 357C213 358.42 218.67 361.92 223 365.5C227.33 369.08 231.5 374.83 237 378.5C242.5 382.17 248.17 385.17 256 387.5C263.83 389.83 278.17 391.33 284 392.5C289.83 393.67 289.83 394.17 291 394.5" fill="none" stroke="#d32307" stroke-width="10.5" stroke-linecap="round" stroke-linejoin="round"/>
<path d="M584 211.5C585.25 209.32 589.6 210.15 592.4 212.5C595.2 214.85 599.23 222.02 600.8 225.6C602.37 229.18 602.88 232.6 601.8 234C600.72 235.4 597.12 235.4 594.3 234C591.48 232.6 586.62 229.35 584.9 225.6C583.18 221.85 582.75 213.68 584 211.5Z" fill="#d32307"/>
<ellipse cx="608.3" cy="248" rx="7.6" ry="10.6" fill="#d32307"/>
<path d="M605.5 283C604.92 285.83 603.25 294.17 602 300C600.75 305.83 598.67 315 598 318" fill="none" stroke="#d32307" stroke-width="9.5" stroke-linecap="butt" stroke-linejoin="round"/>
<path d="M540 394C545.83 392.67 565 390.67 575 386C585 381.33 593.33 371.5 600 366C606.67 360.5 612.5 355.17 615 353" fill="none" stroke="#d32307" stroke-width="4" stroke-linecap="round" stroke-linejoin="round"/>
<path d="M612 354.5C613.67 353.67 618.83 350.67 622 349.5C625.17 348.33 629.5 347.83 631 347.5" fill="none" stroke="#d32307" stroke-width="11" stroke-linecap="round" stroke-linejoin="round"/>
<path d="M503 157C505.83 158.83 514.17 164.17 520 168C525.83 171.83 535 178 538 180" fill="none" stroke="#f59a1c" stroke-width="3.5" stroke-linecap="round" stroke-linejoin="round"/>
<path d="M328 386 L340 389" fill="none" stroke="#d32307" stroke-width="7" stroke-linecap="round" stroke-linejoin="round"/>
<path d="M190 421.5C200 422.92 226.67 427.17 250 430C273.33 432.83 301.67 436.75 330 438.5C358.33 440.25 388.33 440.33 420 440.5C451.67 440.67 490 440.5 520 439.5C550 438.5 586.67 435.33 600 434.5" fill="none" stroke="#0a22e6" stroke-width="2.4" stroke-linecap="round" stroke-linejoin="round" opacity="0.65"/>
<path d="M330 438.5 L360 439.5" fill="none" stroke="#1a50ff" stroke-width="2.4" stroke-linecap="round" stroke-linejoin="round" opacity="0.8"/>
<line x1="400.5" y1="340.2" x2="481" y2="340.2" stroke="#0a0606" stroke-width="3.6"/>
<line x1="400.5" y1="337.6" x2="481" y2="337.6" stroke="#303030" stroke-width="1.8" opacity="0.55"/>
</g></g>
<line x1="1536.75" y1="45.2" x2="2077.9" y2="45.2" stroke="#000" stroke-width="3.3"/>
<line x1="1536.75" y1="519.8" x2="2077.9" y2="519.8" stroke="#000010" stroke-width="2.9"/>
<line x1="1538" y1="46.6" x2="1538" y2="521" stroke="#00002a" stroke-width="2.5"/>
<line x1="2076.5" y1="43.8" x2="2076.5" y2="521" stroke="#000" stroke-width="3.2"/>
<line x1="1678" y1="519.8" x2="1678" y2="512.8" stroke="#00001e" stroke-width="2"/>
<line x1="1820.8" y1="519.8" x2="1820.8" y2="512.8" stroke="#00001e" stroke-width="2"/>
<line x1="1959.2" y1="519.8" x2="1959.2" y2="512.8" stroke="#00001e" stroke-width="2"/>
<line x1="1538" y1="166.5" x2="1544" y2="166.5" stroke="#00001e" stroke-width="2" opacity="0.7"/>
<line x1="2076.5" y1="166.5" x2="2070.5" y2="166.5" stroke="#00001e" stroke-width="2" opacity="0.7"/>
<line x1="1538" y1="290" x2="1544" y2="290" stroke="#00001e" stroke-width="2" opacity="0.7"/>
<line x1="2076.5" y1="290" x2="2070.5" y2="290" stroke="#00001e" stroke-width="2" opacity="0.7"/>
<line x1="1538" y1="410.5" x2="1544" y2="410.5" stroke="#00001e" stroke-width="2" opacity="0.7"/>
<line x1="2076.5" y1="410.5" x2="2070.5" y2="410.5" stroke="#00001e" stroke-width="2" opacity="0.7"/>
</g>
<g id="plot1">
<clipPath id="pc0"><rect x="122.4" y="687.6" width="538.1" height="472.8"/></clipPath>
<g clip-path="url(#pc0)" fill="none" stroke-linejoin="miter" stroke-miterlimit="3">
<polyline points="122.4,1131.11 140.34,1119.83 158.27,1119.46 176.21,1117.95 194.15,1072.08 212.08,959.28 230.02,756.24 247.96,719.77 265.89,816.4 283.83,835.2 301.77,805.12 319.7,867.54 337.64,844.6 355.58,821.29 373.51,797.6 391.45,874.68 409.39,887.09 427.32,755.11 445.26,847.98 463.2,872.8 481.13,786.32 499.07,712.25 517.01,816.4 534.94,947.25 552.88,987.48 570.82,1000.64 588.75,801.36 606.69,797.6 624.63,782.56 642.56,911.53 660.5,647.2" stroke="#0606e6" stroke-width="3.5"/>
<polyline points="122.4,1132.24 140.34,1126.22 158.27,1126.22 176.21,1126.98 194.15,1034.48 212.08,925.44 230.02,859.64 247.96,807 265.89,818.66 283.83,818.66 301.77,823.92 319.7,825.8 337.64,825.8 355.58,801.36 373.51,802.86 391.45,823.17 409.39,827.68 427.32,807.75 445.26,811.51 463.2,811.89 481.13,787.07 499.07,782.56 517.01,823.92 534.94,891.6 552.88,967.93 570.82,972.82 588.75,779.55 606.69,775.79 624.63,777.3 642.56,777.67 660.5,752.48" stroke="#f01414" stroke-width="4.0"/>
<polyline points="122.4,1136 140.34,1136 158.27,1136 176.21,1136 194.15,1136 212.08,910.4 230.02,791.96 247.96,782.56 265.89,793.84 283.83,793.84 301.77,788.2 319.7,783.31 337.64,791.96 355.58,784.44 373.51,787.07 391.45,787.07 409.39,791.96 427.32,786.32 445.26,791.21 463.2,791.21 481.13,791.21 499.07,793.09 517.01,806.62 534.94,899.12 552.88,926.19 570.82,923.94 588.75,784.44 606.69,791.96 624.63,789.33 642.56,789.33 660.5,789.33" stroke="#1cf01c" stroke-width="4.8"/>
</g>
<line x1="121.2" y1="687.6" x2="661.7" y2="687.6" stroke="#646464" stroke-width="2.5"/>
<line x1="122.4" y1="686.6" x2="122.4" y2="1161.6" stroke="#646464" stroke-width="2.6"/>
<line x1="660.5" y1="686.6" x2="660.5" y2="1161.6" stroke="#000" stroke-width="3.1"/>
<line x1="121" y1="1160.4" x2="662" y2="1160.4" stroke="#000" stroke-width="3.2"/>
<line x1="211.5" y1="1160.4" x2="211.5" y2="1153.9" stroke="#111" stroke-width="2"/>
<line x1="211.5" y1="687.6" x2="211.5" y2="692.6" stroke="#222" stroke-width="2"/>
<line x1="301.7" y1="1160.4" x2="301.7" y2="1153.9" stroke="#111" stroke-width="2"/>
<line x1="301.7" y1="687.6" x2="301.7" y2="692.6" stroke="#222" stroke-width="2"/>
<line x1="390.5" y1="1160.4" x2="390.5" y2="1153.9" stroke="#111" stroke-width="2"/>
<line x1="390.5" y1="687.6" x2="390.5" y2="692.6" stroke="#222" stroke-width="2"/>
<line x1="481.3" y1="1160.4" x2="481.3" y2="1153.9" stroke="#111" stroke-width="2"/>
<line x1="481.3" y1="687.6" x2="481.3" y2="692.6" stroke="#222" stroke-width="2"/>
<line x1="571.3" y1="1160.4" x2="571.3" y2="1153.9" stroke="#111" stroke-width="2"/>
<line x1="571.3" y1="687.6" x2="571.3" y2="692.6" stroke="#222" stroke-width="2"/>
<line x1="122.4" y1="760" x2="128.9" y2="760" stroke="#111" stroke-width="2.2"/>
<line x1="660.5" y1="760" x2="654" y2="760" stroke="#111" stroke-width="2.2"/>
<line x1="122.4" y1="834.5" x2="128.9" y2="834.5" stroke="#999" stroke-width="2.2"/>
<line x1="660.5" y1="834.5" x2="654" y2="834.5" stroke="#999" stroke-width="2.2"/>
<line x1="122.4" y1="911.8" x2="128.9" y2="911.8" stroke="#999" stroke-width="2.2"/>
<line x1="660.5" y1="911.8" x2="654" y2="911.8" stroke="#999" stroke-width="2.2"/>
<line x1="122.4" y1="988.3" x2="128.9" y2="988.3" stroke="#111" stroke-width="2.2"/>
<line x1="660.5" y1="988.3" x2="654" y2="988.3" stroke="#111" stroke-width="2.2"/>
<line x1="122.4" y1="1060" x2="128.9" y2="1060" stroke="#999" stroke-width="2.2"/>
<line x1="660.5" y1="1060" x2="654" y2="1060" stroke="#999" stroke-width="2.2"/>
<line x1="122.4" y1="1136" x2="128.9" y2="1136" stroke="#999" stroke-width="2.2"/>
<line x1="660.5" y1="1136" x2="654" y2="1136" stroke="#999" stroke-width="2.2"/>
<rect x="411.6" y="1015.4" width="228.8" height="129.7" fill="#fff" stroke="#8c8c98" stroke-width="2.8"/>
<line x1="411.6" y1="1016.9" x2="411.6" y2="1145.1" stroke="#1e1e3c" stroke-width="2.8"/>
<line x1="427.5" y1="1038.4" x2="511.8" y2="1038.4" stroke="#0808f0" stroke-width="3.2"/>
<line x1="427.5" y1="1076.7" x2="511.8" y2="1076.7" stroke="#eeb4b4" stroke-width="8.4"/>
<line x1="427.5" y1="1076.7" x2="511.8" y2="1076.7" stroke="#c85252" stroke-width="5.2"/>
<line x1="427.5" y1="1117.7" x2="511.8" y2="1117.7" stroke="#b0f6b0" stroke-width="7.2"/>
<line x1="427.5" y1="1117.7" x2="511.8" y2="1117.7" stroke="#32ee3c" stroke-width="5"/>
</g>
<g id="plot2">
<clipPath id="pc1"><rect x="831.5" y="687.6" width="536.3" height="472.8"/></clipPath>
<g clip-path="url(#pc1)" fill="none" stroke-linejoin="miter" stroke-miterlimit="3">
<polyline points="831.5,1042.38 849.38,1126.22 867.25,1127.35 885.13,1128.48 903.01,1132.24 920.88,1132.24 938.76,1117.58 956.64,1134.12 974.51,1131.49 992.39,1117.2 1010.27,1045.01 1028.14,895.36 1046.02,681.04 1063.9,744.96 1081.77,899.87 1099.65,880.32 1117.53,990.11 1135.4,887.84 1153.28,1047.64 1171.16,1071.33 1189.03,1071.33 1206.91,1134.87 1224.79,1132.24 1242.66,1057.04 1260.54,1132.99 1278.42,1134.12 1296.29,1134.12 1314.17,1134.12 1332.05,1120.96 1349.92,1134.12 1367.8,1134.12" stroke="#0606e6" stroke-width="3.5"/>
<polyline points="831.5,1119.46 849.38,1123.59 867.25,1123.59 885.13,1122.84 903.01,1127.35 920.88,1127.35 938.76,1128.48 956.64,1129.98 974.51,1129.98 992.39,1042.38 1010.27,963.79 1028.14,865.28 1046.02,781.43 1063.9,792.34 1081.77,798.73 1099.65,869.04 1117.53,986.35 1135.4,981.84 1153.28,1013.8 1171.16,1047.64 1189.03,1072.08 1206.91,1102.16 1224.79,1131.49 1242.66,1131.49 1260.54,1131.49 1278.42,1131.49 1296.29,1131.49 1314.17,1131.49 1332.05,1131.49 1349.92,1131.49 1367.8,1131.49" stroke="#f01414" stroke-width="4.0"/>
<polyline points="831.5,1136 849.38,1136 867.25,1136 885.13,1136 903.01,1136 920.88,1136 938.76,1136 956.64,1136 974.51,1136 992.39,1136 1010.27,1114.94 1028.14,783.69 1046.02,790.08 1063.9,797.6 1081.77,797.6 1099.65,822.42 1117.53,963.04 1135.4,970.56 1153.28,979.96 1171.16,985.6 1189.03,1109.68 1206.91,1136 1224.79,1136 1242.66,1136 1260.54,1136 1278.42,1136 1296.29,1136 1314.17,1136 1332.05,1136 1349.92,1136 1367.8,1136" stroke="#1cf01c" stroke-width="4.8"/>
</g>
<line x1="830.3" y1="687.6" x2="1369" y2="687.6" stroke="#646464" stroke-width="2.5"/>
<line x1="831.5" y1="686.6" x2="831.5" y2="1161.6" stroke="#646464" stroke-width="2.6"/>
<line x1="1367.8" y1="686.6" x2="1367.8" y2="1161.6" stroke="#000" stroke-width="3.1"/>
<line x1="830.1" y1="1160.4" x2="1369.3" y2="1160.4" stroke="#000" stroke-width="3.2"/>
<line x1="920" y1="1160.4" x2="920" y2="1153.9" stroke="#111" stroke-width="2"/>
<line x1="920" y1="687.6" x2="920" y2="692.6" stroke="#222" stroke-width="2"/>
<line x1="1011" y1="1160.4" x2="1011" y2="1153.9" stroke="#111" stroke-width="2"/>
<line x1="1011" y1="687.6" x2="1011" y2="692.6" stroke="#222" stroke-width="2"/>
<line x1="1098.7" y1="1160.4" x2="1098.7" y2="1153.9" stroke="#111" stroke-width="2"/>
<line x1="1098.7" y1="687.6" x2="1098.7" y2="692.6" stroke="#222" stroke-width="2"/>
<line x1="1188.7" y1="1160.4" x2="1188.7" y2="1153.9" stroke="#111" stroke-width="2"/>
<line x1="1188.7" y1="687.6" x2="1188.7" y2="692.6" stroke="#222" stroke-width="2"/>
<line x1="1277.7" y1="1160.4" x2="1277.7" y2="1153.9" stroke="#111" stroke-width="2"/>
<line x1="1277.7" y1="687.6" x2="1277.7" y2="692.6" stroke="#222" stroke-width="2"/>
<line x1="831.5" y1="760" x2="838" y2="760" stroke="#111" stroke-width="2.2"/>
<line x1="1367.8" y1="760" x2="1361.3" y2="760" stroke="#111" stroke-width="2.2"/>
<line x1="831.5" y1="834.5" x2="838" y2="834.5" stroke="#999" stroke-width="2.2"/>
<line x1="1367.8" y1="834.5" x2="1361.3" y2="834.5" stroke="#999" stroke-width="2.2"/>
<line x1="831.5" y1="911.8" x2="838" y2="911.8" stroke="#999" stroke-width="2.2"/>
<line x1="1367.8" y1="911.8" x2="1361.3" y2="911.8" stroke="#999" stroke-width="2.2"/>
<line x1="831.5" y1="988.3" x2="838" y2="988.3" stroke="#111" stroke-width="2.2"/>
<line x1="1367.8" y1="988.3" x2="1361.3" y2="988.3" stroke="#111" stroke-width="2.2"/>
<line x1="831.5" y1="1060" x2="838" y2="1060" stroke="#999" stroke-width="2.2"/>
<line x1="1367.8" y1="1060" x2="1361.3" y2="1060" stroke="#999" stroke-width="2.2"/>
<line x1="831.5" y1="1136" x2="838" y2="1136" stroke="#999" stroke-width="2.2"/>
<line x1="1367.8" y1="1136" x2="1361.3" y2="1136" stroke="#999" stroke-width="2.2"/>
<rect x="1118.3" y="702.6" width="228.2" height="125.4" fill="#fff" stroke="#8c8c98" stroke-width="2.8"/>
<line x1="1346.5" y1="704.1" x2="1346.5" y2="828" stroke="#1e1e3c" stroke-width="2.8"/>
<line x1="1118.3" y1="828.6" x2="1347.9" y2="828.6" stroke="#5a5a70" stroke-width="3.2"/>
<line x1="1134.1" y1="724.7" x2="1220.5" y2="724.7" stroke="#8a8ae0" stroke-width="5"/>
<line x1="1134.1" y1="723.4" x2="1220.5" y2="723.4" stroke="#10109c" stroke-width="3"/>
<line x1="1134.1" y1="765.1" x2="1220.5" y2="765.1" stroke="#ffa0a0" stroke-width="5.2"/>
<line x1="1134.1" y1="764.1" x2="1220.5" y2="764.1" stroke="#fa0808" stroke-width="3.4"/>
<line x1="1134.1" y1="802.5" x2="1220.5" y2="802.5" stroke="#c4f4c4" stroke-width="9"/>
<line x1="1134.1" y1="802.5" x2="1220.5" y2="802.5" stroke="#70e27c" stroke-width="5.6"/>
</g>
<g id="plot3">
<clipPath id="pc2"><rect x="1538.3" y="687.6" width="538.5" height="472.8"/></clipPath>
<g clip-path="url(#pc2)" fill="none" stroke-linejoin="miter" stroke-miterlimit="3">
<polyline points="1538.3,880.32 1556.25,807.38 1574.2,812.64 1592.15,880.32 1610.1,942.36 1628.05,1048.77 1646,983.72 1663.95,1063.81 1681.9,829.94 1699.85,699.84 1717.8,861.52 1735.75,792.71 1753.7,735.56 1771.65,841.22 1789.6,770.15 1807.55,768.65 1825.5,757.37 1843.45,779.93 1861.4,758.87 1879.35,844.98 1897.3,763.76 1915.25,787.45 1933.2,820.16 1951.15,772.41 1969.1,877.5 1987.05,934.84 2005,995 2022.95,1011.92 2040.9,857.76 2058.85,887.84 2076.8,850.24" stroke="#0606e6" stroke-width="3.5"/>
<polyline points="1538.3,885.21 1556.25,867.54 1574.2,851.37 1592.15,905.14 1610.1,952.51 1628.05,1023.95 1646,1026.21 1663.95,1029.97 1681.9,895.36 1699.85,797.6 1717.8,805.12 1735.75,805.12 1753.7,775.04 1771.65,773.91 1789.6,770.15 1807.55,758.87 1825.5,758.87 1843.45,775.04 1861.4,772.41 1879.35,772.41 1897.3,772.41 1915.25,783.69 1933.2,783.69 1951.15,779.93 1969.1,829.94 1987.05,895.36 2005,963.04 2022.95,970.56 2040.9,901.38 2058.85,901.38 2076.8,901.38" stroke="#f01414" stroke-width="4.0"/>
<polyline points="1538.3,890.1 1556.25,877.5 1574.2,825.05 1592.15,961.16 1610.1,960.03 1628.05,1005.15 1646,1025.08 1663.95,1007.41 1681.9,835.2 1699.85,787.07 1717.8,787.07 1735.75,793.84 1753.7,787.45 1771.65,790.08 1789.6,790.08 1807.55,790.08 1825.5,790.08 1843.45,790.08 1861.4,790.08 1879.35,790.08 1897.3,787.07 1915.25,787.45 1933.2,791.21 1951.15,791.21 1969.1,794.97 1987.05,960.03 2005,972.44 2022.95,929.2 2040.9,885.21 2058.85,897.62 2076.8,906.64" stroke="#1cf01c" stroke-width="4.8"/>
</g>
<line x1="1537.1" y1="687.6" x2="2078" y2="687.6" stroke="#646464" stroke-width="2.5"/>
<line x1="1538.3" y1="686.6" x2="1538.3" y2="1161.6" stroke="#000" stroke-width="3.1"/>
<line x1="2076.8" y1="686.6" x2="2076.8" y2="1161.6" stroke="#646464" stroke-width="2.6"/>
<line x1="1536.9" y1="1160.4" x2="2078.3" y2="1160.4" stroke="#000" stroke-width="3.2"/>
<line x1="1631.5" y1="1160.4" x2="1631.5" y2="1153.9" stroke="#111" stroke-width="2"/>
<line x1="1631.5" y1="687.6" x2="1631.5" y2="692.6" stroke="#222" stroke-width="2"/>
<line x1="1721" y1="1160.4" x2="1721" y2="1153.9" stroke="#111" stroke-width="2"/>
<line x1="1721" y1="687.6" x2="1721" y2="692.6" stroke="#222" stroke-width="2"/>
<line x1="1808.5" y1="1160.4" x2="1808.5" y2="1153.9" stroke="#111" stroke-width="2"/>
<line x1="1808.5" y1="687.6" x2="1808.5" y2="692.6" stroke="#222" stroke-width="2"/>
<line x1="1900" y1="1160.4" x2="1900" y2="1153.9" stroke="#111" stroke-width="2"/>
<line x1="1900" y1="687.6" x2="1900" y2="692.6" stroke="#222" stroke-width="2"/>
<line x1="1987.5" y1="1160.4" x2="1987.5" y2="1153.9" stroke="#111" stroke-width="2"/>
<line x1="1987.5" y1="687.6" x2="1987.5" y2="692.6" stroke="#222" stroke-width="2"/>
<line x1="1538.3" y1="760" x2="1544.8" y2="760" stroke="#111" stroke-width="2.2"/>
<line x1="2076.8" y1="760" x2="2070.3" y2="760" stroke="#111" stroke-width="2.2"/>
<line x1="1538.3" y1="834.5" x2="1544.8" y2="834.5" stroke="#999" stroke-width="2.2"/>
<line x1="2076.8" y1="834.5" x2="2070.3" y2="834.5" stroke="#999" stroke-width="2.2"/>
<line x1="1538.3" y1="911.8" x2="1544.8" y2="911.8" stroke="#999" stroke-width="2.2"/>
<line x1="2076.8" y1="911.8" x2="2070.3" y2="911.8" stroke="#999" stroke-width="2.2"/>
<line x1="1538.3" y1="988.3" x2="1544.8" y2="988.3" stroke="#111" stroke-width="2.2"/>
<line x1="2076.8" y1="988.3" x2="2070.3" y2="988.3" stroke="#111" stroke-width="2.2"/>
<line x1="1538.3" y1="1060" x2="1544.8" y2="1060" stroke="#999" stroke-width="2.2"/>
<line x1="2076.8" y1="1060" x2="2070.3" y2="1060" stroke="#999" stroke-width="2.2"/>
<line x1="1538.3" y1="1136" x2="1544.8" y2="1136" stroke="#999" stroke-width="2.2"/>
<line x1="2076.8" y1="1136" x2="2070.3" y2="1136" stroke="#999" stroke-width="2.2"/>
<rect x="1830.5" y="1015.5" width="226.5" height="130.2" fill="#fff" stroke="#8c8c98" stroke-width="2.8"/>
<line x1="2057" y1="1017" x2="2057" y2="1145.7" stroke="#1e1e3c" stroke-width="2.8"/>
<circle cx="1880.3" cy="1052.1" r="35.7" fill="none" stroke="#b0b4ca" stroke-width="2.4"/>
<line x1="1846.3" y1="1038.4" x2="1930" y2="1038.4" stroke="#0808f0" stroke-width="3.2"/>
<line x1="1846.3" y1="1077.6" x2="1930" y2="1077.6" stroke="#eeb4b4" stroke-width="8.4"/>
<line x1="1846.3" y1="1077.6" x2="1930" y2="1077.6" stroke="#c85252" stroke-width="5.2"/>
<line x1="1846.3" y1="1118" x2="1930" y2="1118" stroke="#b0f6b0" stroke-width="7.2"/>
<line x1="1846.3" y1="1118" x2="1930" y2="1118" stroke="#32ee3c" stroke-width="5"/>
</g>
</svg>
<svg id="labels" width="2137" height="1345" viewBox="0 0 2137 1345">
<text transform="translate(244.41 553.4) scale(0.84 1)" font-size="32.4" text-anchor="start" fill="#15111c">50</text>
<text transform="translate(379.8 553.4) scale(0.82 1)" font-size="32.4" text-anchor="start" fill="#15111c">100</text>
<text transform="translate(518.93 553.4) scale(0.81 1)" font-size="32.4" text-anchor="start" fill="#15111c">150</text>
<text transform="translate(112.7 176.7) scale(0.9 1)" font-size="28.2" text-anchor="end" fill="#15111c">50</text>
<text transform="translate(112.7 300.2) scale(0.9 1)" font-size="28.2" text-anchor="end" fill="#15111c">100</text>
<text transform="translate(112.7 420.7) scale(0.9 1)" font-size="28.2" text-anchor="end" fill="#15111c">150</text>
<text transform="translate(951.41 553.4) scale(0.84 1)" font-size="32.4" text-anchor="start" fill="#15111c">50</text>
<text transform="translate(1085.6 553.4) scale(0.82 1)" font-size="32.4" text-anchor="start" fill="#15111c">100</text>
<text transform="translate(1225.13 553.4) scale(0.81 1)" font-size="32.4" text-anchor="start" fill="#15111c">150</text>
<text transform="translate(821.8 176.7) scale(0.9 1)" font-size="28.2" text-anchor="end" fill="#15111c">50</text>
<text transform="translate(821.8 300.2) scale(0.9 1)" font-size="28.2" text-anchor="end" fill="#15111c">100</text>
<text transform="translate(821.8 420.7) scale(0.9 1)" font-size="28.2" text-anchor="end" fill="#15111c">150</text>
<text transform="translate(1662.01 553.4) scale(0.84 1)" font-size="32.4" text-anchor="start" fill="#15111c">50</text>
<text transform="translate(1797.3 553.4) scale(0.82 1)" font-size="32.4" text-anchor="start" fill="#15111c">100</text>
<text transform="translate(1936.03 553.4) scale(0.81 1)" font-size="32.4" text-anchor="start" fill="#15111c">150</text>
<text transform="translate(1528.5 176.7) scale(0.9 1)" font-size="28.2" text-anchor="end" fill="#15111c">50</text>
<text transform="translate(1528.5 300.2) scale(0.9 1)" font-size="28.2" text-anchor="end" fill="#15111c">100</text>
<text transform="translate(1528.5 420.7) scale(0.9 1)" font-size="28.2" text-anchor="end" fill="#15111c">150</text>
<text transform="translate(122.7 1190.6) scale(0.9 1)" font-size="29.3" text-anchor="middle" fill="#15111c">75</text>
<text transform="translate(211.2 1190.6) scale(0.9 1)" font-size="29.3" text-anchor="middle" fill="#15111c">80</text>
<text transform="translate(301.4 1190.6) scale(0.9 1)" font-size="29.3" text-anchor="middle" fill="#15111c">85</text>
<text transform="translate(390.2 1190.6) scale(0.9 1)" font-size="29.3" text-anchor="middle" fill="#15111c">90</text>
<text transform="translate(481 1190.6) scale(0.9 1)" font-size="29.3" text-anchor="middle" fill="#15111c">95</text>
<text transform="translate(571 1190.6) scale(0.9 1)" font-size="29.3" text-anchor="middle" fill="#15111c">100</text>
<text transform="translate(660.7 1190.6) scale(0.9 1)" font-size="29.3" text-anchor="middle" fill="#15111c">105</text>
<text transform="translate(113.4 770.5) scale(0.9 1)" font-size="29.8" text-anchor="end" fill="#15111c">1</text>
<text transform="translate(113.4 845) scale(0.9 1)" font-size="29.8" text-anchor="end" fill="#15111c">0.8</text>
<text transform="translate(113.4 922.3) scale(0.9 1)" font-size="29.8" text-anchor="end" fill="#15111c">0.6</text>
<text transform="translate(113.4 998.8) scale(0.9 1)" font-size="29.8" text-anchor="end" fill="#15111c">0.4</text>
<text transform="translate(113.4 1070.5) scale(0.9 1)" font-size="29.8" text-anchor="end" fill="#15111c">0.2</text>
<text transform="translate(113.4 1146.5) scale(0.9 1)" font-size="29.8" text-anchor="end" fill="#15111c">0</text>
<text transform="translate(54.7 921.6) rotate(-90) scale(0.94 1)" font-size="33.5" text-anchor="middle" fill="#2e2e3c">Intensity Value</text>
<text transform="translate(388.55 1309.3) scale(0.91 1)" font-size="33.7" text-anchor="middle" fill="#2e2e3c">Pixel Position</text>
<text transform="translate(518.91 1050.4) scale(0.89 1)" font-size="32" text-anchor="start" fill="#15111c">MLEM</text>
<text transform="translate(528.11 1091.1) scale(0.88 1)" font-size="32" text-anchor="start" fill="#15111c"><tspan font-style="italic">f</tspan>-MLEM</text>
<text transform="translate(520.11 1132.3) scale(0.85 1)" font-size="32" text-anchor="start" fill="#15111c">original</text>
<text transform="translate(829.7 1190.6) scale(0.9 1)" font-size="29.3" text-anchor="middle" fill="#15111c">160</text>
<text transform="translate(919.7 1190.6) scale(0.9 1)" font-size="29.3" text-anchor="middle" fill="#15111c">165</text>
<text transform="translate(1010.7 1190.6) scale(0.9 1)" font-size="29.3" text-anchor="middle" fill="#15111c">170</text>
<text transform="translate(1098.4 1190.6) scale(0.9 1)" font-size="29.3" text-anchor="middle" fill="#15111c">175</text>
<text transform="translate(1188.4 1190.6) scale(0.9 1)" font-size="29.3" text-anchor="middle" fill="#15111c">180</text>
<text transform="translate(1277.4 1190.6) scale(0.9 1)" font-size="29.3" text-anchor="middle" fill="#15111c">185</text>
<text transform="translate(1367.4 1190.6) scale(0.9 1)" font-size="29.3" text-anchor="middle" fill="#15111c">190</text>
<text transform="translate(822.5 770.5) scale(0.9 1)" font-size="29.8" text-anchor="end" fill="#15111c">1</text>
<text transform="translate(822.5 845) scale(0.9 1)" font-size="29.8" text-anchor="end" fill="#15111c">0.8</text>
<text transform="translate(822.5 922.3) scale(0.9 1)" font-size="29.8" text-anchor="end" fill="#15111c">0.6</text>
<text transform="translate(822.5 998.8) scale(0.9 1)" font-size="29.8" text-anchor="end" fill="#15111c">0.4</text>
<text transform="translate(822.5 1070.5) scale(0.9 1)" font-size="29.8" text-anchor="end" fill="#15111c">0.2</text>
<text transform="translate(822.5 1146.5) scale(0.9 1)" font-size="29.8" text-anchor="end" fill="#15111c">0</text>
<text transform="translate(763.8 921.6) rotate(-90) scale(0.94 1)" font-size="33.5" text-anchor="middle" fill="#2e2e3c">Intensity Value</text>
<text transform="translate(1096.75 1309.3) scale(0.91 1)" font-size="33.7" text-anchor="middle" fill="#2e2e3c">Pixel Position</text>
<text transform="translate(1224.73 735) scale(1 1)" font-size="29.5" text-anchor="start" fill="#15111c">MLEM</text>
<text transform="translate(1235.29 775) scale(0.98 1)" font-size="29.5" text-anchor="start" fill="#15111c"><tspan font-style="italic">f</tspan>-MLEM</text>
<text transform="translate(1226.7 816.3) scale(0.93 1)" font-size="29.5" text-anchor="start" fill="#15111c">original</text>
<text transform="translate(1538.7 1190.6) scale(0.9 1)" font-size="29.3" text-anchor="middle" fill="#15111c">100</text>
<text transform="translate(1631.2 1190.6) scale(0.9 1)" font-size="29.3" text-anchor="middle" fill="#15111c">105</text>
<text transform="translate(1720.7 1190.6) scale(0.9 1)" font-size="29.3" text-anchor="middle" fill="#15111c">110</text>
<text transform="translate(1808.2 1190.6) scale(0.9 1)" font-size="29.3" text-anchor="middle" fill="#15111c">115</text>
<text transform="translate(1899.7 1190.6) scale(0.9 1)" font-size="29.3" text-anchor="middle" fill="#15111c">120</text>
<text transform="translate(1987.2 1190.6) scale(0.9 1)" font-size="29.3" text-anchor="middle" fill="#15111c">125</text>
<text transform="translate(2077.7 1190.6) scale(0.9 1)" font-size="29.3" text-anchor="middle" fill="#15111c">130</text>
<text transform="translate(1529.3 770.5) scale(0.9 1)" font-size="29.8" text-anchor="end" fill="#15111c">1</text>
<text transform="translate(1529.3 845) scale(0.9 1)" font-size="29.8" text-anchor="end" fill="#15111c">0.8</text>
<text transform="translate(1529.3 922.3) scale(0.9 1)" font-size="29.8" text-anchor="end" fill="#15111c">0.6</text>
<text transform="translate(1529.3 998.8) scale(0.9 1)" font-size="29.8" text-anchor="end" fill="#15111c">0.4</text>
<text transform="translate(1529.3 1070.5) scale(0.9 1)" font-size="29.8" text-anchor="end" fill="#15111c">0.2</text>
<text transform="translate(1529.3 1146.5) scale(0.9 1)" font-size="29.8" text-anchor="end" fill="#15111c">0</text>
<text transform="translate(1470.6 921.6) rotate(-90) scale(0.94 1)" font-size="33.5" text-anchor="middle" fill="#2e2e3c">Intensity Value</text>
<text transform="translate(1804.65 1309.3) scale(0.91 1)" font-size="33.7" text-anchor="middle" fill="#2e2e3c">Pixel Position</text>
<text transform="translate(1936.39 1050.6) scale(0.9 1)" font-size="32" text-anchor="start" fill="#15111c">MLEM</text>
<text transform="translate(1946.01 1091) scale(0.89 1)" font-size="32" text-anchor="start" fill="#15111c"><tspan font-style="italic">f</tspan>-MLEM</text>
<text transform="translate(1937.61 1131.5) scale(0.85 1)" font-size="32" text-anchor="start" fill="#15111c">original</text>
</svg>
</div>
</body>
</html>
